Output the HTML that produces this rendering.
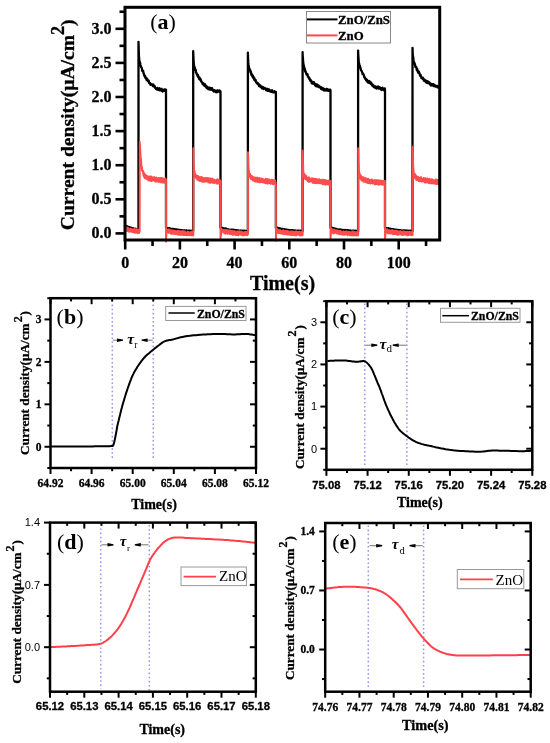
<!DOCTYPE html>
<html><head><meta charset="utf-8"><title>Current density transient response</title>
<style>html,body{margin:0;padding:0;background:#fff;} svg{display:block;filter:blur(0.4px);} text{stroke:#000;stroke-width:0.3px;paint-order:stroke;} text.nostroke{stroke:none;}</style></head>
<body>
<svg width="550" height="743" viewBox="0 0 550 743">
<rect width="550" height="743" fill="#fff"/>
<path d="M125.2,225.7 L125.5,226.0 L125.7,225.8 L126.0,226.3 L126.3,226.1 L126.6,226.4 L126.8,226.7 L127.1,226.5 L127.4,227.0 L127.7,226.8 L127.9,227.2 L128.2,227.3 L128.5,227.2 L128.8,227.0 L129.0,227.6 L129.3,227.6 L129.6,227.4 L129.8,227.3 L130.1,227.7 L130.4,227.9 L130.7,227.6 L130.9,228.3 L131.2,227.8 L131.5,228.3 L131.8,228.4 L132.0,228.5 L132.3,228.5 L132.6,228.2 L132.9,228.7 L133.1,228.5 L133.4,228.5 L133.7,228.7 L134.0,228.7 L134.2,229.0 L134.5,229.1 L134.8,229.0 L135.0,228.8 L135.3,229.0 L135.6,229.1 L135.9,229.0 L136.1,229.1 L136.4,229.3 L136.7,229.0 L137.0,229.1 L137.2,229.4 L137.5,229.2 L137.8,229.3 L138.1,229.1 L138.3,229.2 L138.5,229.5 L138.5,41.8 L138.6,45.8 L138.9,54.8 L139.1,58.1 L139.4,61.5 L139.7,61.6 L139.7,61.7 L139.8,62.1 L140.0,62.3 L140.2,63.8 L140.5,65.0 L140.8,65.9 L141.1,67.0 L141.3,67.0 L141.6,67.5 L141.9,68.8 L142.2,70.8 L142.4,70.1 L142.7,70.9 L143.0,70.7 L143.3,71.7 L143.5,73.3 L143.8,73.3 L144.1,75.3 L144.3,75.0 L144.6,76.2 L144.9,76.9 L145.2,76.0 L145.4,77.9 L145.7,78.2 L146.0,78.4 L146.3,77.8 L146.5,80.0 L146.8,79.4 L147.1,78.9 L147.4,79.4 L147.6,79.6 L147.9,81.2 L148.2,81.2 L148.4,80.5 L148.7,80.7 L149.0,82.8 L149.3,83.1 L149.5,83.3 L149.8,83.6 L150.1,83.1 L150.4,84.1 L150.6,84.9 L150.9,84.2 L151.2,84.5 L151.5,84.3 L151.7,84.2 L152.0,84.7 L152.3,84.6 L152.6,84.6 L152.8,86.1 L153.1,84.4 L153.4,84.6 L153.6,85.0 L153.9,86.1 L154.2,86.3 L154.5,87.2 L154.7,86.2 L155.0,87.8 L155.3,87.8 L155.6,88.2 L155.8,88.1 L156.1,89.0 L156.4,89.4 L156.7,89.3 L156.9,88.9 L157.2,89.7 L157.5,88.0 L157.7,88.6 L158.0,89.7 L158.3,89.4 L158.6,89.5 L158.8,90.1 L159.1,88.6 L159.4,88.3 L159.7,89.6 L159.9,90.4 L160.2,90.4 L160.5,90.0 L160.8,90.2 L161.0,89.0 L161.3,90.5 L161.6,88.9 L161.8,90.0 L162.1,91.0 L162.4,90.3 L162.7,91.6 L162.9,90.7 L163.2,89.8 L163.5,90.0 L163.8,90.8 L164.0,90.5 L164.3,90.8 L164.6,89.3 L164.9,89.4 L165.1,90.6 L165.4,90.9 L165.7,89.8 L166.0,89.6 L166.0,89.9 L166.0,227.4 L166.2,227.5 L166.5,227.6 L166.8,228.0 L167.0,227.9 L167.3,228.1 L167.6,228.4 L167.9,228.4 L168.1,228.3 L168.4,228.4 L168.7,228.2 L169.0,228.1 L169.2,228.5 L169.5,228.2 L169.8,228.3 L170.1,228.3 L170.3,228.8 L170.6,229.0 L170.9,229.0 L171.1,229.1 L171.4,229.1 L171.7,228.9 L172.0,228.8 L172.2,228.9 L172.5,229.2 L172.8,229.1 L173.1,229.0 L173.3,229.6 L173.6,229.2 L173.9,229.1 L174.2,229.2 L174.4,229.3 L174.7,229.5 L175.0,229.8 L175.3,229.4 L175.5,229.8 L175.8,229.5 L176.1,229.4 L176.3,229.8 L176.6,229.9 L176.9,229.5 L177.2,229.7 L177.4,230.1 L177.7,230.2 L178.0,230.2 L178.3,229.7 L178.5,229.8 L178.8,230.3 L179.1,229.9 L179.4,229.8 L179.6,230.1 L179.9,230.3 L180.2,230.2 L180.4,230.5 L180.7,230.6 L181.0,230.0 L181.3,230.3 L181.5,230.4 L181.8,230.1 L182.1,230.5 L182.4,230.2 L182.6,230.3 L182.9,230.7 L183.2,230.7 L183.5,230.7 L183.7,230.8 L184.0,230.5 L184.3,230.8 L184.5,230.7 L184.8,230.9 L185.1,230.4 L185.4,230.8 L185.6,230.8 L185.9,230.7 L186.2,230.5 L186.5,230.8 L186.7,230.5 L187.0,230.8 L187.3,230.8 L187.6,230.8 L187.8,231.2 L188.1,230.9 L188.4,231.1 L188.7,231.3 L188.9,230.7 L189.2,231.2 L189.5,231.0 L189.7,230.8 L190.0,230.9 L190.3,231.1 L190.6,231.0 L190.8,231.0 L191.1,230.8 L191.4,231.3 L191.7,231.0 L191.9,231.3 L192.2,231.2 L192.5,230.9 L192.8,231.1 L193.0,231.1 L193.2,231.0 L193.2,51.1 L193.3,54.7 L193.4,56.3 L193.4,55.9 L193.6,60.9 L193.8,64.0 L194.1,66.0 L194.4,66.8 L194.7,67.3 L194.9,68.0 L195.2,70.2 L195.5,70.2 L195.8,70.0 L196.0,72.4 L196.3,73.1 L196.6,73.1 L196.9,74.5 L197.1,74.7 L197.4,75.7 L197.7,74.7 L198.0,75.0 L198.2,77.2 L198.5,76.5 L198.8,77.1 L199.0,78.8 L199.3,77.4 L199.6,79.4 L199.9,78.2 L200.1,79.8 L200.4,79.9 L200.7,79.2 L201.0,81.4 L201.2,81.1 L201.5,81.3 L201.8,82.1 L202.1,82.7 L202.3,82.8 L202.6,83.8 L202.9,82.9 L203.1,83.5 L203.4,84.7 L203.7,84.3 L204.0,84.0 L204.2,85.5 L204.5,83.8 L204.8,84.5 L205.1,84.4 L205.3,86.5 L205.6,86.5 L205.9,85.6 L206.2,87.1 L206.4,87.7 L206.7,87.3 L207.0,86.5 L207.2,87.0 L207.5,88.6 L207.8,87.1 L208.1,87.9 L208.3,87.8 L208.6,89.2 L208.9,89.4 L209.2,88.6 L209.4,89.5 L209.7,87.6 L210.0,88.3 L210.3,88.0 L210.5,89.6 L210.8,89.7 L211.1,88.1 L211.4,89.1 L211.6,89.4 L211.9,89.0 L212.2,88.3 L212.4,90.2 L212.7,89.6 L213.0,90.4 L213.3,90.9 L213.5,91.0 L213.8,91.5 L214.1,91.0 L214.4,91.1 L214.6,90.2 L214.9,91.3 L215.2,90.9 L215.5,91.7 L215.7,92.1 L216.0,91.6 L216.3,92.2 L216.5,90.7 L216.8,91.1 L217.1,91.9 L217.4,90.3 L217.6,92.1 L217.9,90.6 L218.2,91.5 L218.5,91.4 L218.7,90.7 L219.0,91.4 L219.3,91.1 L219.6,90.5 L219.8,92.0 L220.1,91.0 L220.4,91.3 L220.5,92.0 L220.5,227.7 L220.7,227.9 L220.9,228.0 L221.2,228.1 L221.5,227.7 L221.7,228.1 L222.0,228.3 L222.3,228.4 L222.6,227.9 L222.8,228.0 L223.1,228.2 L223.4,228.5 L223.7,228.6 L223.9,228.6 L224.2,228.6 L224.5,228.9 L224.8,228.7 L225.0,228.9 L225.3,228.5 L225.6,228.5 L225.8,228.9 L226.1,229.2 L226.4,228.7 L226.7,229.2 L226.9,229.2 L227.2,229.5 L227.5,229.3 L227.8,229.3 L228.0,229.3 L228.3,229.6 L228.6,229.4 L228.9,229.8 L229.1,229.7 L229.4,229.8 L229.7,229.7 L230.0,230.0 L230.2,230.0 L230.5,229.9 L230.8,229.9 L231.0,229.7 L231.3,229.8 L231.6,229.7 L231.9,229.8 L232.1,229.8 L232.4,229.7 L232.7,230.1 L233.0,230.2 L233.2,229.7 L233.5,230.4 L233.8,230.0 L234.1,230.1 L234.3,230.5 L234.6,230.0 L234.9,230.0 L235.1,230.2 L235.4,230.2 L235.7,230.1 L236.0,230.6 L236.2,230.4 L236.5,230.4 L236.8,230.2 L237.1,230.3 L237.3,230.3 L237.6,230.5 L237.9,230.3 L238.2,230.4 L238.4,230.5 L238.7,230.8 L239.0,231.0 L239.2,230.9 L239.5,230.8 L239.8,231.0 L240.1,230.5 L240.3,230.7 L240.6,230.7 L240.9,230.7 L241.2,230.7 L241.4,230.8 L241.7,231.2 L242.0,230.6 L242.3,230.7 L242.5,230.9 L242.8,230.9 L243.1,230.8 L243.4,231.2 L243.6,230.8 L243.9,231.1 L244.2,231.3 L244.4,231.1 L244.7,230.8 L245.0,231.2 L245.3,230.9 L245.5,230.7 L245.8,231.1 L246.1,231.1 L246.4,231.1 L246.6,231.0 L246.9,230.9 L247.2,231.0 L247.5,231.0 L247.7,231.4 L247.9,231.4 L247.9,52.6 L248.0,56.3 L248.0,57.6 L248.0,57.5 L248.3,62.4 L248.5,64.4 L248.8,66.1 L249.1,68.1 L249.4,68.5 L249.6,69.4 L249.9,70.1 L250.2,70.0 L250.5,72.3 L250.7,71.4 L251.0,72.2 L251.3,74.9 L251.6,74.7 L251.8,74.0 L252.1,75.6 L252.4,76.3 L252.7,76.9 L252.9,75.6 L253.2,77.6 L253.5,78.3 L253.7,77.9 L254.0,77.5 L254.3,79.8 L254.6,78.7 L254.8,79.9 L255.1,79.8 L255.4,81.1 L255.7,80.0 L255.9,81.2 L256.2,82.5 L256.5,82.8 L256.8,82.2 L257.0,83.0 L257.3,83.7 L257.6,83.7 L257.8,84.1 L258.1,83.3 L258.4,83.9 L258.7,84.0 L258.9,86.0 L259.2,84.6 L259.5,85.4 L259.8,85.3 L260.0,86.6 L260.3,86.7 L260.6,85.6 L260.9,86.6 L261.1,87.2 L261.4,87.2 L261.7,88.2 L261.9,88.3 L262.2,86.9 L262.5,88.3 L262.8,87.0 L263.0,88.7 L263.3,88.3 L263.6,89.1 L263.9,88.9 L264.1,87.7 L264.4,88.0 L264.7,88.3 L265.0,88.2 L265.2,88.1 L265.5,89.0 L265.8,88.7 L266.1,90.2 L266.3,88.8 L266.6,88.9 L266.9,89.2 L267.1,90.2 L267.4,90.8 L267.7,89.0 L268.0,90.9 L268.2,90.5 L268.5,90.7 L268.8,89.8 L269.1,89.4 L269.3,91.0 L269.6,90.2 L269.9,90.5 L270.2,91.0 L270.4,91.6 L270.7,91.7 L271.0,91.7 L271.2,90.3 L271.5,91.8 L271.8,90.3 L272.1,90.1 L272.3,91.4 L272.6,92.0 L272.9,91.9 L273.2,91.7 L273.4,92.4 L273.7,92.2 L274.0,92.3 L274.3,91.8 L274.5,91.2 L274.8,92.1 L275.1,92.1 L275.4,91.7 L275.6,91.9 L275.9,91.9 L275.9,227.9 L275.9,227.8 L276.2,227.4 L276.4,228.0 L276.7,227.8 L277.0,227.8 L277.3,227.7 L277.5,228.3 L277.8,228.3 L278.1,228.4 L278.4,228.3 L278.6,228.4 L278.9,228.1 L279.2,228.2 L279.5,228.3 L279.7,228.9 L280.0,229.0 L280.3,228.6 L280.5,228.5 L280.8,228.9 L281.1,228.8 L281.4,229.3 L281.6,229.1 L281.9,228.8 L282.2,228.9 L282.5,228.9 L282.7,228.9 L283.0,229.4 L283.3,229.6 L283.6,229.6 L283.8,229.4 L284.1,229.3 L284.4,229.2 L284.7,229.4 L284.9,229.5 L285.2,229.4 L285.5,229.7 L285.7,229.7 L286.0,230.1 L286.3,229.6 L286.6,230.0 L286.8,229.6 L287.1,229.8 L287.4,230.1 L287.7,230.2 L287.9,230.2 L288.2,229.9 L288.5,229.9 L288.8,230.4 L289.0,230.4 L289.3,230.1 L289.6,230.1 L289.8,230.3 L290.1,230.4 L290.4,230.2 L290.7,230.6 L290.9,230.5 L291.2,230.4 L291.5,230.1 L291.8,230.3 L292.0,230.2 L292.3,230.5 L292.6,230.7 L292.9,230.7 L293.1,230.2 L293.4,230.4 L293.7,230.7 L293.9,230.9 L294.2,230.6 L294.5,230.5 L294.8,230.7 L295.0,230.9 L295.3,230.6 L295.6,230.4 L295.9,230.9 L296.1,231.1 L296.4,230.9 L296.7,230.9 L297.0,230.7 L297.2,231.0 L297.5,230.6 L297.8,230.7 L298.1,230.9 L298.3,231.1 L298.6,230.6 L298.9,231.1 L299.1,230.7 L299.4,231.1 L299.7,231.2 L300.0,230.8 L300.2,231.1 L300.5,230.7 L300.8,231.0 L301.1,231.3 L301.3,231.2 L301.6,231.1 L301.9,231.0 L302.2,230.8 L302.4,231.3 L302.6,231.2 L302.6,52.1 L302.7,56.5 L302.7,56.5 L302.7,55.7 L303.0,59.7 L303.2,62.5 L303.5,64.7 L303.8,65.5 L304.1,66.8 L304.3,69.2 L304.6,68.3 L304.9,69.4 L305.2,71.6 L305.4,70.8 L305.7,72.0 L306.0,72.7 L306.3,73.7 L306.5,74.6 L306.8,74.6 L307.1,74.9 L307.4,74.1 L307.6,74.7 L307.9,76.9 L308.2,77.1 L308.4,76.6 L308.7,77.1 L309.0,78.4 L309.3,78.8 L309.5,79.4 L309.8,78.6 L310.1,80.6 L310.4,80.6 L310.6,79.8 L310.9,81.3 L311.2,80.7 L311.5,81.2 L311.7,83.1 L312.0,83.4 L312.3,83.6 L312.5,83.3 L312.8,82.3 L313.1,82.1 L313.4,83.4 L313.6,83.6 L313.9,82.2 L314.2,84.0 L314.5,83.3 L314.7,84.5 L315.0,84.9 L315.3,85.7 L315.6,84.4 L315.8,84.8 L316.1,84.2 L316.4,86.3 L316.6,86.0 L316.9,85.6 L317.2,84.7 L317.5,86.1 L317.7,86.5 L318.0,86.3 L318.3,86.3 L318.6,85.5 L318.8,87.2 L319.1,86.2 L319.4,86.2 L319.7,86.4 L319.9,86.9 L320.2,87.7 L320.5,87.9 L320.8,87.1 L321.0,88.8 L321.3,88.7 L321.6,87.7 L321.8,89.0 L322.1,89.6 L322.4,88.7 L322.7,89.3 L322.9,88.1 L323.2,88.4 L323.5,88.4 L323.8,90.1 L324.0,90.5 L324.3,89.7 L324.6,89.3 L324.9,89.9 L325.1,90.5 L325.4,90.1 L325.7,89.5 L325.9,89.3 L326.2,89.0 L326.5,89.4 L326.8,90.5 L327.0,88.9 L327.3,89.6 L327.6,90.2 L327.9,89.5 L328.1,90.8 L328.4,90.8 L328.7,90.9 L329.0,89.6 L329.2,90.3 L329.5,90.9 L329.8,90.9 L330.1,89.6 L330.3,90.8 L330.5,90.1 L330.5,227.5 L330.6,227.3 L330.9,228.0 L331.1,227.8 L331.4,227.7 L331.7,227.7 L332.0,227.7 L332.2,228.4 L332.5,228.3 L332.8,228.5 L333.1,228.5 L333.3,228.1 L333.6,228.4 L333.9,228.2 L334.2,228.7 L334.4,228.4 L334.7,228.7 L335.0,228.9 L335.2,228.6 L335.5,228.6 L335.8,229.2 L336.1,228.9 L336.3,229.0 L336.6,229.3 L336.9,229.2 L337.2,229.4 L337.4,229.4 L337.7,229.5 L338.0,229.3 L338.3,229.3 L338.5,229.6 L338.8,229.8 L339.1,229.6 L339.4,229.4 L339.6,229.8 L339.9,229.8 L340.2,229.9 L340.4,229.5 L340.7,229.7 L341.0,230.1 L341.3,230.1 L341.5,229.9 L341.8,229.9 L342.1,229.9 L342.4,230.3 L342.6,230.2 L342.9,229.9 L343.2,230.1 L343.5,230.3 L343.7,230.3 L344.0,229.9 L344.3,230.3 L344.5,230.2 L344.8,230.4 L345.1,230.3 L345.4,230.1 L345.6,230.0 L345.9,230.5 L346.2,230.6 L346.5,230.3 L346.7,230.7 L347.0,230.8 L347.3,230.2 L347.6,230.6 L347.8,230.3 L348.1,230.6 L348.4,230.3 L348.6,230.6 L348.9,230.9 L349.2,231.0 L349.5,230.6 L349.7,230.6 L350.0,230.4 L350.3,231.0 L350.6,230.7 L350.8,230.9 L351.1,230.8 L351.4,231.1 L351.7,231.0 L351.9,230.8 L352.2,230.6 L352.5,231.1 L352.8,230.9 L353.0,230.7 L353.3,230.6 L353.6,231.1 L353.8,231.2 L354.1,230.7 L354.4,230.7 L354.7,231.0 L354.9,231.3 L355.2,230.7 L355.5,231.1 L355.8,230.8 L356.0,231.0 L356.3,230.9 L356.6,231.3 L356.9,230.9 L357.1,231.3 L357.4,231.2 L357.7,230.9 L357.9,230.9 L358.1,231.4 L358.1,50.6 L358.2,54.1 L358.2,54.7 L358.2,53.4 L358.5,58.0 L358.8,62.6 L359.0,63.2 L359.3,64.1 L359.6,66.7 L359.9,65.9 L360.1,67.2 L360.4,68.1 L360.7,68.7 L361.0,70.1 L361.2,70.5 L361.5,70.8 L361.8,71.2 L362.1,72.2 L362.3,72.8 L362.6,74.2 L362.9,73.4 L363.1,74.1 L363.4,74.1 L363.7,74.6 L364.0,75.8 L364.2,77.0 L364.5,76.8 L364.8,78.1 L365.1,77.8 L365.3,79.0 L365.6,78.7 L365.9,78.9 L366.2,80.4 L366.4,79.5 L366.7,79.6 L367.0,79.9 L367.2,80.8 L367.5,82.1 L367.8,81.5 L368.1,82.1 L368.3,82.7 L368.6,81.2 L368.9,81.0 L369.2,81.7 L369.4,81.6 L369.7,83.0 L370.0,82.6 L370.3,81.8 L370.5,82.1 L370.8,84.0 L371.1,82.8 L371.3,82.7 L371.6,84.4 L371.9,83.9 L372.2,85.6 L372.4,84.3 L372.7,86.1 L373.0,85.2 L373.3,86.1 L373.5,85.3 L373.8,87.0 L374.1,87.0 L374.4,86.6 L374.6,87.2 L374.9,87.6 L375.2,87.8 L375.5,86.3 L375.7,87.0 L376.0,86.7 L376.3,88.4 L376.5,88.5 L376.8,87.5 L377.1,87.3 L377.4,87.8 L377.6,86.6 L377.9,87.3 L378.2,86.7 L378.5,88.5 L378.7,86.7 L379.0,87.6 L379.3,88.3 L379.6,87.5 L379.8,87.3 L380.1,88.3 L380.4,88.9 L380.6,88.2 L380.9,89.0 L381.2,89.7 L381.5,90.0 L381.7,88.2 L382.0,89.4 L382.3,88.6 L382.6,87.8 L382.8,88.6 L383.1,89.3 L383.4,90.0 L383.7,90.0 L383.9,89.8 L384.2,88.9 L384.5,89.3 L384.8,88.4 L385.0,90.1 L385.0,227.8 L385.0,227.5 L385.3,228.0 L385.6,228.1 L385.8,227.9 L386.1,228.2 L386.4,228.1 L386.7,228.3 L386.9,228.1 L387.2,228.1 L387.5,228.5 L387.8,228.3 L388.0,228.4 L388.3,228.7 L388.6,228.2 L388.9,228.8 L389.1,228.9 L389.4,229.0 L389.7,228.7 L389.9,228.6 L390.2,228.7 L390.5,229.0 L390.8,229.2 L391.0,229.4 L391.3,229.0 L391.6,229.1 L391.9,229.3 L392.1,229.2 L392.4,229.3 L392.7,229.1 L393.0,229.2 L393.2,229.6 L393.5,229.2 L393.8,229.8 L394.1,229.6 L394.3,229.7 L394.6,229.8 L394.9,230.0 L395.1,229.6 L395.4,230.1 L395.7,229.8 L396.0,229.6 L396.2,230.1 L396.5,230.1 L396.8,229.9 L397.1,230.0 L397.3,229.9 L397.6,229.9 L397.9,230.3 L398.2,230.3 L398.4,230.3 L398.7,230.5 L399.0,230.0 L399.2,230.1 L399.5,230.1 L399.8,230.6 L400.1,230.1 L400.3,230.2 L400.6,230.4 L400.9,230.2 L401.2,230.5 L401.4,230.6 L401.7,230.8 L402.0,230.7 L402.3,230.8 L402.5,230.7 L402.8,230.4 L403.1,230.5 L403.3,230.4 L403.6,230.5 L403.9,230.8 L404.2,230.6 L404.4,230.7 L404.7,230.5 L405.0,230.7 L405.3,230.9 L405.5,230.7 L405.8,230.5 L406.1,231.0 L406.4,230.6 L406.6,231.2 L406.9,231.0 L407.2,231.1 L407.5,230.7 L407.7,230.6 L408.0,230.8 L408.3,231.1 L408.5,230.7 L408.8,231.1 L409.1,231.2 L409.4,230.7 L409.6,230.9 L409.9,230.9 L410.2,230.9 L410.5,230.7 L410.7,231.1 L411.0,230.9 L411.3,231.0 L411.6,230.9 L411.8,231.2 L412.1,231.0 L412.4,231.1 L412.5,231.3 L412.5,47.8 L412.6,49.8 L412.6,51.5 L412.6,51.7 L412.9,56.1 L413.2,57.0 L413.5,60.0 L413.7,61.8 L414.0,63.1 L414.3,62.6 L414.6,63.5 L414.8,64.2 L415.1,64.8 L415.4,67.0 L415.7,66.6 L415.9,66.7 L416.2,67.3 L416.5,67.7 L416.8,70.1 L417.0,68.8 L417.3,69.2 L417.6,71.4 L417.8,71.6 L418.1,72.3 L418.4,72.8 L418.7,71.4 L418.9,71.9 L419.2,72.4 L419.5,73.3 L419.8,74.5 L420.0,75.4 L420.3,75.9 L420.6,74.9 L420.9,76.4 L421.1,76.6 L421.4,77.9 L421.7,77.8 L421.9,78.2 L422.2,77.7 L422.5,78.8 L422.8,77.7 L423.0,79.0 L423.3,78.5 L423.6,79.2 L423.9,80.7 L424.1,80.1 L424.4,79.6 L424.7,80.8 L425.0,80.2 L425.2,80.8 L425.5,81.7 L425.8,82.2 L426.0,80.7 L426.3,82.2 L426.6,82.7 L426.9,82.3 L427.1,81.2 L427.4,83.0 L427.7,82.1 L428.0,82.3 L428.2,81.7 L428.5,83.2 L428.8,82.7 L429.1,82.2 L429.3,83.7 L429.6,82.5 L429.9,84.2 L430.2,84.6 L430.4,83.8 L430.7,85.2 L431.0,84.2 L431.2,85.5 L431.5,84.0 L431.8,84.3 L432.1,84.2 L432.3,85.2 L432.6,85.1 L432.9,85.2 L433.2,84.2 L433.4,86.0 L433.7,84.3 L434.0,86.0 L434.3,86.1 L434.5,84.9 L434.8,86.0 L435.1,86.5 L435.3,85.6 L435.6,86.5 L435.9,86.4 L436.2,85.9 L436.4,86.0 L436.7,86.2 L437.0,86.9 L437.3,87.3 L437.5,85.9 L437.8,86.3 L438.1,86.2 L438.4,87.5 L438.6,86.9 L438.9,86.5" fill="none" stroke="#000" stroke-width="2.3" stroke-linejoin="round"/>
<path d="M125.2,230.2 L125.3,228.8 L125.4,227.2 L125.6,229.8 L125.7,230.1 L125.8,229.7 L125.9,228.1 L126.1,227.6 L126.2,230.4 L126.3,230.5 L126.4,230.1 L126.6,229.9 L126.7,229.1 L126.8,230.6 L126.9,230.0 L127.0,230.6 L127.2,227.4 L127.3,228.5 L127.4,231.1 L127.5,227.6 L127.7,231.1 L127.8,230.0 L127.9,227.6 L128.0,228.4 L128.2,228.7 L128.3,230.0 L128.4,231.0 L128.5,229.2 L128.6,231.4 L128.8,231.0 L128.9,230.3 L129.0,231.8 L129.1,230.3 L129.3,228.8 L129.4,229.2 L129.5,230.0 L129.6,229.5 L129.8,230.2 L129.9,231.6 L130.0,229.7 L130.1,230.6 L130.2,229.2 L130.4,228.6 L130.5,230.5 L130.6,230.0 L130.7,229.3 L130.9,230.6 L131.0,231.5 L131.1,229.5 L131.2,228.8 L131.4,229.3 L131.5,229.6 L131.6,229.0 L131.7,229.8 L131.8,229.9 L132.0,230.7 L132.1,231.3 L132.2,230.1 L132.3,232.3 L132.5,231.0 L132.6,229.5 L132.7,229.8 L132.8,230.2 L133.0,231.7 L133.1,231.0 L133.2,230.9 L133.3,230.3 L133.4,231.2 L133.6,230.1 L133.7,229.1 L133.8,232.1 L133.9,230.2 L134.1,229.7 L134.2,231.4 L134.3,231.0 L134.4,229.0 L134.6,232.8 L134.7,230.8 L134.8,232.4 L134.9,229.8 L135.0,229.2 L135.2,230.9 L135.3,232.7 L135.4,230.7 L135.5,230.9 L135.7,230.2 L135.8,231.0 L135.9,230.5 L136.0,229.8 L136.2,231.0 L136.3,231.5 L136.4,229.3 L136.5,232.4 L136.6,230.4 L136.8,231.6 L136.9,230.1 L137.0,232.8 L137.1,229.3 L137.3,231.8 L137.4,233.1 L137.5,232.2 L137.6,231.7 L137.8,233.3 L137.9,231.6 L138.0,231.6 L138.1,230.5 L138.2,231.9 L138.4,232.3 L138.5,232.5 L138.5,230.4 L138.5,229.6 L138.6,231.3 L138.7,232.5 L138.9,230.2 L139.0,231.8 L139.1,232.6 L139.2,232.9 L139.4,230.3 L139.5,230.2 L139.6,230.9 L139.7,231.6 L139.7,231.2 L139.8,143.3 L139.8,141.9 L140.0,147.1 L140.1,148.0 L140.2,149.2 L140.3,151.2 L140.5,154.5 L140.6,157.0 L140.7,157.3 L140.8,160.7 L141.0,158.7 L141.1,162.2 L141.2,161.0 L141.3,164.8 L141.4,165.2 L141.6,166.7 L141.7,166.8 L141.8,168.7 L141.9,170.2 L142.1,167.6 L142.2,170.3 L142.3,171.0 L142.4,171.3 L142.6,171.0 L142.7,171.7 L142.8,171.2 L142.9,171.5 L143.0,173.2 L143.2,171.0 L143.3,171.6 L143.4,175.7 L143.5,172.4 L143.7,172.3 L143.8,173.1 L143.9,176.3 L144.0,173.4 L144.2,174.5 L144.3,177.5 L144.4,177.7 L144.5,173.6 L144.6,175.1 L144.8,177.1 L144.9,178.0 L145.0,177.9 L145.1,177.6 L145.3,175.2 L145.4,177.3 L145.5,178.3 L145.6,175.0 L145.8,175.6 L145.9,178.6 L146.0,175.3 L146.1,176.7 L146.2,176.0 L146.4,176.6 L146.5,175.6 L146.6,176.1 L146.7,176.0 L146.9,179.0 L147.0,176.8 L147.1,177.6 L147.2,176.6 L147.4,178.1 L147.5,176.1 L147.6,177.7 L147.7,179.0 L147.8,179.2 L148.0,179.7 L148.1,178.1 L148.2,180.2 L148.3,178.3 L148.5,179.8 L148.6,178.3 L148.7,178.3 L148.8,178.1 L149.0,176.6 L149.1,180.6 L149.2,176.8 L149.3,178.6 L149.4,178.2 L149.6,177.7 L149.7,176.9 L149.8,179.1 L149.9,178.9 L150.1,176.4 L150.2,180.6 L150.3,178.0 L150.4,178.0 L150.6,180.9 L150.7,178.2 L150.8,177.9 L150.9,176.7 L151.0,179.5 L151.2,176.5 L151.3,178.8 L151.4,178.9 L151.5,177.0 L151.7,181.0 L151.8,177.9 L151.9,178.3 L152.0,179.7 L152.2,177.3 L152.3,179.6 L152.4,179.1 L152.5,178.9 L152.6,177.8 L152.8,180.4 L152.9,179.4 L153.0,179.4 L153.1,178.8 L153.3,177.6 L153.4,180.1 L153.5,177.6 L153.6,179.6 L153.8,179.2 L153.9,180.3 L154.0,179.2 L154.1,177.0 L154.2,178.5 L154.4,177.9 L154.5,180.1 L154.6,180.1 L154.7,180.2 L154.9,178.9 L155.0,178.7 L155.1,178.0 L155.2,181.5 L155.4,178.4 L155.5,177.6 L155.6,179.2 L155.7,181.5 L155.8,180.4 L156.0,181.8 L156.1,180.9 L156.2,177.6 L156.3,179.0 L156.5,178.8 L156.6,178.2 L156.7,177.7 L156.8,179.1 L157.0,179.1 L157.1,179.0 L157.2,178.7 L157.3,179.2 L157.4,178.8 L157.6,181.0 L157.7,178.9 L157.8,179.9 L157.9,178.5 L158.1,181.6 L158.2,181.2 L158.3,181.9 L158.4,178.5 L158.6,177.9 L158.7,179.1 L158.8,180.5 L158.9,178.4 L159.0,178.5 L159.2,179.6 L159.3,181.0 L159.4,180.8 L159.5,180.3 L159.7,180.8 L159.8,180.3 L159.9,179.3 L160.0,178.0 L160.2,182.1 L160.3,179.7 L160.4,182.2 L160.5,181.8 L160.6,178.6 L160.8,179.7 L160.9,178.2 L161.0,180.4 L161.1,182.4 L161.3,180.7 L161.4,179.7 L161.5,178.2 L161.6,178.0 L161.8,180.3 L161.9,180.6 L162.0,182.1 L162.1,179.6 L162.2,181.6 L162.4,181.9 L162.5,182.6 L162.6,182.6 L162.7,179.5 L162.9,182.1 L163.0,178.2 L163.1,182.3 L163.2,178.7 L163.4,182.1 L163.5,182.7 L163.6,179.4 L163.7,181.7 L163.8,179.4 L164.0,181.9 L164.1,182.6 L164.2,179.3 L164.3,179.6 L164.5,178.9 L164.6,179.5 L164.7,182.5 L164.8,180.0 L165.0,179.6 L165.1,180.8 L165.2,178.6 L165.3,181.8 L165.4,178.5 L165.6,179.7 L165.7,183.0 L165.8,183.0 L165.9,180.0 L166.0,179.3 L166.0,241.8 L166.1,240.1 L166.2,236.7 L166.3,237.3 L166.4,232.8 L166.6,232.7 L166.7,232.7 L166.8,231.3 L166.9,230.5 L167.0,231.1 L167.2,230.2 L167.3,232.4 L167.4,229.7 L167.5,231.5 L167.7,230.4 L167.8,230.5 L167.9,231.4 L168.0,231.6 L168.2,230.0 L168.3,229.4 L168.4,230.0 L168.5,231.0 L168.6,232.1 L168.8,233.1 L168.9,229.4 L169.0,230.5 L169.1,230.0 L169.3,232.1 L169.4,231.0 L169.5,229.5 L169.6,230.1 L169.8,231.1 L169.9,232.3 L170.0,231.9 L170.1,230.0 L170.2,232.1 L170.4,230.9 L170.5,231.3 L170.6,230.1 L170.7,230.5 L170.9,232.6 L171.0,233.8 L171.1,232.8 L171.2,232.1 L171.4,231.5 L171.5,230.6 L171.6,230.3 L171.7,233.8 L171.8,230.6 L172.0,230.7 L172.1,230.5 L172.2,231.7 L172.3,233.0 L172.5,230.6 L172.6,230.8 L172.7,231.3 L172.8,230.4 L173.0,232.8 L173.1,233.9 L173.2,232.0 L173.3,231.0 L173.4,233.4 L173.6,231.2 L173.7,230.5 L173.8,233.4 L173.9,231.9 L174.1,231.6 L174.2,232.5 L174.3,233.5 L174.4,233.4 L174.6,231.4 L174.7,231.2 L174.8,232.6 L174.9,234.1 L175.0,231.2 L175.2,231.4 L175.3,233.6 L175.4,232.2 L175.5,230.9 L175.7,231.0 L175.8,232.5 L175.9,232.7 L176.0,232.2 L176.2,233.9 L176.3,233.9 L176.4,233.9 L176.5,231.8 L176.6,233.2 L176.8,232.4 L176.9,233.1 L177.0,232.6 L177.1,234.1 L177.3,234.6 L177.4,230.7 L177.5,233.3 L177.6,234.4 L177.8,232.2 L177.9,231.6 L178.0,234.2 L178.1,232.4 L178.2,233.5 L178.4,232.8 L178.5,234.8 L178.6,234.8 L178.7,230.9 L178.9,231.4 L179.0,233.0 L179.1,232.6 L179.2,233.9 L179.4,231.8 L179.5,233.3 L179.6,231.1 L179.7,231.9 L179.8,231.7 L180.0,231.1 L180.1,234.0 L180.2,234.9 L180.3,234.2 L180.5,234.3 L180.6,234.7 L180.7,234.9 L180.8,232.8 L181.0,231.6 L181.1,233.3 L181.2,231.3 L181.3,231.4 L181.4,234.9 L181.6,232.7 L181.7,233.6 L181.8,234.7 L181.9,231.3 L182.1,234.2 L182.2,232.9 L182.3,232.6 L182.4,231.3 L182.6,232.5 L182.7,233.6 L182.8,233.4 L182.9,234.6 L183.0,231.3 L183.2,231.2 L183.3,234.4 L183.4,235.1 L183.5,234.3 L183.7,233.9 L183.8,231.6 L183.9,231.6 L184.0,231.9 L184.2,235.1 L184.3,232.1 L184.4,232.5 L184.5,232.7 L184.6,231.3 L184.8,235.1 L184.9,234.8 L185.0,232.3 L185.1,231.6 L185.3,232.6 L185.4,234.2 L185.5,233.0 L185.6,232.3 L185.8,235.0 L185.9,234.1 L186.0,234.4 L186.1,234.9 L186.2,233.5 L186.4,234.8 L186.5,234.5 L186.6,234.9 L186.7,232.7 L186.9,235.4 L187.0,232.6 L187.1,234.7 L187.2,235.4 L187.4,231.7 L187.5,234.6 L187.6,231.7 L187.7,232.0 L187.8,231.9 L188.0,235.0 L188.1,233.7 L188.2,235.1 L188.3,231.7 L188.5,232.1 L188.6,233.0 L188.7,233.7 L188.8,234.2 L189.0,232.2 L189.1,233.6 L189.2,233.0 L189.3,235.0 L189.4,234.7 L189.6,235.4 L189.7,232.7 L189.8,233.3 L189.9,235.0 L190.1,232.1 L190.2,234.5 L190.3,233.9 L190.4,235.0 L190.6,234.5 L190.7,232.2 L190.8,234.3 L190.9,235.0 L191.0,233.6 L191.2,234.3 L191.3,232.0 L191.4,235.2 L191.5,231.7 L191.7,235.4 L191.8,232.0 L191.9,232.9 L192.0,234.8 L192.2,233.7 L192.3,234.5 L192.4,234.6 L192.5,234.9 L192.6,234.2 L192.8,231.6 L192.9,231.6 L193.0,231.9 L193.1,235.3 L193.2,234.5 L193.2,232.0 L193.3,235.5 L193.4,232.7 L193.4,149.8 L193.4,148.2 L193.5,158.5 L193.6,159.2 L193.8,164.7 L193.9,168.1 L194.0,170.7 L194.1,168.4 L194.2,170.9 L194.4,173.4 L194.5,173.0 L194.6,171.4 L194.7,175.1 L194.9,173.8 L195.0,176.2 L195.1,176.3 L195.2,173.8 L195.4,174.3 L195.5,176.9 L195.6,177.6 L195.7,177.8 L195.8,175.5 L196.0,176.2 L196.1,177.4 L196.2,177.8 L196.3,176.0 L196.5,175.7 L196.6,175.4 L196.7,176.5 L196.8,178.4 L197.0,179.1 L197.1,176.1 L197.2,177.7 L197.3,176.4 L197.4,179.5 L197.6,176.1 L197.7,178.4 L197.8,176.1 L197.9,176.1 L198.1,177.9 L198.2,180.2 L198.3,176.1 L198.4,178.2 L198.6,176.4 L198.7,179.3 L198.8,179.7 L198.9,176.8 L199.0,179.0 L199.2,180.0 L199.3,179.1 L199.4,178.1 L199.5,180.9 L199.7,178.5 L199.8,178.9 L199.9,178.6 L200.0,180.5 L200.2,177.8 L200.3,177.4 L200.4,177.2 L200.5,179.7 L200.6,178.0 L200.8,179.5 L200.9,177.8 L201.0,181.1 L201.1,177.3 L201.3,177.0 L201.4,179.2 L201.5,179.1 L201.6,179.1 L201.8,179.1 L201.9,181.5 L202.0,177.1 L202.1,180.6 L202.2,180.8 L202.4,181.2 L202.5,180.6 L202.6,178.0 L202.7,181.6 L202.9,181.3 L203.0,178.6 L203.1,180.9 L203.2,181.8 L203.4,179.1 L203.5,179.2 L203.6,179.5 L203.7,178.7 L203.8,181.5 L204.0,178.0 L204.1,178.7 L204.2,181.8 L204.3,181.5 L204.5,179.8 L204.6,179.8 L204.7,180.8 L204.8,181.6 L205.0,180.3 L205.1,181.5 L205.2,179.5 L205.3,178.2 L205.4,181.6 L205.6,179.6 L205.7,178.8 L205.8,181.5 L205.9,178.5 L206.1,178.0 L206.2,180.6 L206.3,180.4 L206.4,178.5 L206.6,180.0 L206.7,180.6 L206.8,178.1 L206.9,178.9 L207.0,180.9 L207.2,181.4 L207.3,181.0 L207.4,180.5 L207.5,178.0 L207.7,178.8 L207.8,178.3 L207.9,178.8 L208.0,178.7 L208.2,182.4 L208.3,180.2 L208.4,178.2 L208.5,178.3 L208.6,181.5 L208.8,180.8 L208.9,179.8 L209.0,181.1 L209.1,180.3 L209.3,182.5 L209.4,180.8 L209.5,180.5 L209.6,182.7 L209.8,182.2 L209.9,178.4 L210.0,179.3 L210.1,178.5 L210.2,180.0 L210.4,179.2 L210.5,178.8 L210.6,178.9 L210.7,182.8 L210.9,180.0 L211.0,181.8 L211.1,179.9 L211.2,181.8 L211.4,180.5 L211.5,178.8 L211.6,180.2 L211.7,181.9 L211.8,180.7 L212.0,181.1 L212.1,178.7 L212.2,181.8 L212.3,181.8 L212.5,180.2 L212.6,182.7 L212.7,180.5 L212.8,178.8 L213.0,180.9 L213.1,182.0 L213.2,181.1 L213.3,180.8 L213.4,182.6 L213.6,182.8 L213.7,182.7 L213.8,182.0 L213.9,181.5 L214.1,182.1 L214.2,182.3 L214.3,183.0 L214.4,180.9 L214.6,179.6 L214.7,180.6 L214.8,180.8 L214.9,180.5 L215.0,182.6 L215.2,180.2 L215.3,181.4 L215.4,181.0 L215.5,180.7 L215.7,181.4 L215.8,182.2 L215.9,182.5 L216.0,182.6 L216.2,181.3 L216.3,181.9 L216.4,181.0 L216.5,183.6 L216.6,182.1 L216.8,179.7 L216.9,182.6 L217.0,181.2 L217.1,181.5 L217.3,182.5 L217.4,179.2 L217.5,182.5 L217.6,180.3 L217.8,183.1 L217.9,183.6 L218.0,179.8 L218.1,181.9 L218.2,183.6 L218.4,182.1 L218.5,181.9 L218.6,180.6 L218.7,183.5 L218.9,183.0 L219.0,179.6 L219.1,180.6 L219.2,183.3 L219.4,182.5 L219.5,182.4 L219.6,181.0 L219.7,181.2 L219.8,180.2 L220.0,180.3 L220.1,181.7 L220.2,180.7 L220.3,180.7 L220.5,180.7 L220.5,182.0 L220.5,238.9 L220.6,238.3 L220.7,235.8 L220.8,237.3 L221.0,232.6 L221.1,234.5 L221.2,229.7 L221.3,230.4 L221.4,230.8 L221.6,229.0 L221.7,230.6 L221.8,231.3 L221.9,229.8 L222.1,229.5 L222.2,230.6 L222.3,231.5 L222.4,231.3 L222.6,231.3 L222.7,230.2 L222.8,232.0 L222.9,231.7 L223.0,231.0 L223.2,231.7 L223.3,232.0 L223.4,230.2 L223.5,229.9 L223.7,231.4 L223.8,231.6 L223.9,232.7 L224.0,232.3 L224.2,233.0 L224.3,231.2 L224.4,231.2 L224.5,233.3 L224.6,229.9 L224.8,232.4 L224.9,230.3 L225.0,230.3 L225.1,229.8 L225.3,232.9 L225.4,232.1 L225.5,230.1 L225.6,233.8 L225.8,233.7 L225.9,231.6 L226.0,231.9 L226.1,230.2 L226.2,230.8 L226.4,231.8 L226.5,229.9 L226.6,231.9 L226.7,231.9 L226.9,231.3 L227.0,232.5 L227.1,232.7 L227.2,231.7 L227.4,232.7 L227.5,230.3 L227.6,231.4 L227.7,232.1 L227.8,233.8 L228.0,232.7 L228.1,232.6 L228.2,232.0 L228.3,232.0 L228.5,230.7 L228.6,230.4 L228.7,232.4 L228.8,232.6 L229.0,231.9 L229.1,230.4 L229.2,233.0 L229.3,232.3 L229.4,231.1 L229.6,233.8 L229.7,233.2 L229.8,230.5 L229.9,231.2 L230.1,232.5 L230.2,234.1 L230.3,230.9 L230.4,231.8 L230.6,231.3 L230.7,230.6 L230.8,231.0 L230.9,233.0 L231.0,234.0 L231.2,233.5 L231.3,232.6 L231.4,232.7 L231.5,234.0 L231.7,234.0 L231.8,232.2 L231.9,232.3 L232.0,233.4 L232.2,230.7 L232.3,232.2 L232.4,234.7 L232.5,233.2 L232.6,231.6 L232.8,233.6 L232.9,232.1 L233.0,234.9 L233.1,233.7 L233.3,231.5 L233.4,232.5 L233.5,232.2 L233.6,234.2 L233.8,232.9 L233.9,232.7 L234.0,233.9 L234.1,232.4 L234.2,232.8 L234.4,231.0 L234.5,232.7 L234.6,233.4 L234.7,234.6 L234.9,234.4 L235.0,232.0 L235.1,234.7 L235.2,234.7 L235.4,234.4 L235.5,233.0 L235.6,231.8 L235.7,232.6 L235.8,231.9 L236.0,234.9 L236.1,235.1 L236.2,232.0 L236.3,233.9 L236.5,232.3 L236.6,233.8 L236.7,234.5 L236.8,234.1 L237.0,234.8 L237.1,231.5 L237.2,232.9 L237.3,233.8 L237.4,233.4 L237.6,233.7 L237.7,235.1 L237.8,231.6 L237.9,232.9 L238.1,231.4 L238.2,233.5 L238.3,232.8 L238.4,234.3 L238.6,235.2 L238.7,231.5 L238.8,231.9 L238.9,234.1 L239.0,231.7 L239.2,232.0 L239.3,234.1 L239.4,232.9 L239.5,231.5 L239.7,233.4 L239.8,231.5 L239.9,234.4 L240.0,233.8 L240.2,232.5 L240.3,234.5 L240.4,234.2 L240.5,231.9 L240.6,233.5 L240.8,232.2 L240.9,234.5 L241.0,234.8 L241.1,234.0 L241.3,234.7 L241.4,231.5 L241.5,234.3 L241.6,233.2 L241.8,235.0 L241.9,233.3 L242.0,233.9 L242.1,233.9 L242.2,235.3 L242.4,235.0 L242.5,232.2 L242.6,234.1 L242.7,234.5 L242.9,234.8 L243.0,234.4 L243.1,234.6 L243.2,235.4 L243.4,232.9 L243.5,234.2 L243.6,234.9 L243.7,232.7 L243.8,235.2 L244.0,234.5 L244.1,232.2 L244.2,235.1 L244.3,233.8 L244.5,232.2 L244.6,232.3 L244.7,235.0 L244.8,234.2 L245.0,232.7 L245.1,234.1 L245.2,231.7 L245.3,234.8 L245.4,231.8 L245.6,233.6 L245.7,234.7 L245.8,233.8 L245.9,235.1 L246.1,232.8 L246.2,234.6 L246.3,232.0 L246.4,233.3 L246.6,234.2 L246.7,234.7 L246.8,233.2 L246.9,234.8 L247.0,232.1 L247.2,235.2 L247.3,233.6 L247.4,233.5 L247.5,234.6 L247.7,232.5 L247.8,234.1 L247.9,233.0 L247.9,233.4 L247.9,234.4 L248.0,234.1 L248.0,152.1 L248.0,153.2 L248.2,155.6 L248.3,162.3 L248.4,163.9 L248.5,168.9 L248.6,168.7 L248.8,171.0 L248.9,171.5 L249.0,173.3 L249.1,175.1 L249.3,174.5 L249.4,175.4 L249.5,176.3 L249.6,173.9 L249.8,176.2 L249.9,175.9 L250.0,173.7 L250.1,174.6 L250.2,174.2 L250.4,174.5 L250.5,178.1 L250.6,177.5 L250.7,178.8 L250.9,175.9 L251.0,176.1 L251.1,177.7 L251.2,177.5 L251.4,176.5 L251.5,176.4 L251.6,178.6 L251.7,175.9 L251.8,178.3 L252.0,177.1 L252.1,179.3 L252.2,179.7 L252.3,176.1 L252.5,177.0 L252.6,177.1 L252.7,180.3 L252.8,180.4 L253.0,179.9 L253.1,179.8 L253.2,179.4 L253.3,179.1 L253.4,180.7 L253.6,179.5 L253.7,178.1 L253.8,180.2 L253.9,177.2 L254.1,178.5 L254.2,177.9 L254.3,180.1 L254.4,179.3 L254.6,178.2 L254.7,179.8 L254.8,181.4 L254.9,177.6 L255.0,177.9 L255.2,180.2 L255.3,181.4 L255.4,177.7 L255.5,178.8 L255.7,181.5 L255.8,180.6 L255.9,181.2 L256.0,178.1 L256.2,180.9 L256.3,177.6 L256.4,178.4 L256.5,181.5 L256.6,178.7 L256.8,180.1 L256.9,178.5 L257.0,178.2 L257.1,180.8 L257.3,181.7 L257.4,177.7 L257.5,180.2 L257.6,177.8 L257.8,179.0 L257.9,178.8 L258.0,178.4 L258.1,179.3 L258.2,180.2 L258.4,182.0 L258.5,179.1 L258.6,180.4 L258.7,180.0 L258.9,178.1 L259.0,181.8 L259.1,178.9 L259.2,182.2 L259.4,179.2 L259.5,178.7 L259.6,181.3 L259.7,180.0 L259.8,178.0 L260.0,179.6 L260.1,180.1 L260.2,181.4 L260.3,182.3 L260.5,181.0 L260.6,180.7 L260.7,181.7 L260.8,181.3 L261.0,182.1 L261.1,179.5 L261.2,179.6 L261.3,181.7 L261.4,181.7 L261.6,180.4 L261.7,180.8 L261.8,178.5 L261.9,181.2 L262.1,181.5 L262.2,178.8 L262.3,182.2 L262.4,180.3 L262.6,181.4 L262.7,179.2 L262.8,180.4 L262.9,179.5 L263.0,182.2 L263.2,179.9 L263.3,180.3 L263.4,180.9 L263.5,179.5 L263.7,179.2 L263.8,182.6 L263.9,181.8 L264.0,181.5 L264.2,182.2 L264.3,182.9 L264.4,181.9 L264.5,182.3 L264.6,180.0 L264.8,181.2 L264.9,182.7 L265.0,181.8 L265.1,181.1 L265.3,181.6 L265.4,182.5 L265.5,183.0 L265.6,183.3 L265.8,178.8 L265.9,179.9 L266.0,183.0 L266.1,180.1 L266.2,178.9 L266.4,180.8 L266.5,183.0 L266.6,181.2 L266.7,181.5 L266.9,182.6 L267.0,181.0 L267.1,183.5 L267.2,179.3 L267.4,180.6 L267.5,180.7 L267.6,179.3 L267.7,180.6 L267.8,182.5 L268.0,182.5 L268.1,183.0 L268.2,183.5 L268.3,180.1 L268.5,179.8 L268.6,182.3 L268.7,182.9 L268.8,180.8 L269.0,179.8 L269.1,179.5 L269.2,183.0 L269.3,180.2 L269.4,180.0 L269.6,180.4 L269.7,182.3 L269.8,183.0 L269.9,180.1 L270.1,182.4 L270.2,182.2 L270.3,181.4 L270.4,182.2 L270.6,180.1 L270.7,182.9 L270.8,183.8 L270.9,181.4 L271.0,181.1 L271.2,180.2 L271.3,180.8 L271.4,179.9 L271.5,179.7 L271.7,181.8 L271.8,181.8 L271.9,183.4 L272.0,182.8 L272.2,181.5 L272.3,183.8 L272.4,181.0 L272.5,183.5 L272.6,182.2 L272.8,179.7 L272.9,183.8 L273.0,184.1 L273.1,182.3 L273.3,183.4 L273.4,181.0 L273.5,184.3 L273.6,180.5 L273.8,180.4 L273.9,180.7 L274.0,182.4 L274.1,183.1 L274.2,181.4 L274.4,182.1 L274.5,182.5 L274.6,182.9 L274.7,182.5 L274.9,181.4 L275.0,180.7 L275.1,180.3 L275.2,183.8 L275.4,183.2 L275.5,182.5 L275.6,182.0 L275.7,183.0 L275.8,183.7 L275.9,184.2 L275.9,240.8 L276.0,239.3 L276.1,235.5 L276.2,234.1 L276.3,232.6 L276.5,230.5 L276.6,228.9 L276.7,230.3 L276.8,229.5 L277.0,232.6 L277.1,230.2 L277.2,230.5 L277.3,231.8 L277.4,230.7 L277.6,229.2 L277.7,231.1 L277.8,230.5 L277.9,231.9 L278.1,231.8 L278.2,229.6 L278.3,233.1 L278.4,232.5 L278.6,230.5 L278.7,231.5 L278.8,233.0 L278.9,230.7 L279.0,231.9 L279.2,231.1 L279.3,231.8 L279.4,231.3 L279.5,231.2 L279.7,232.0 L279.8,233.1 L279.9,232.9 L280.0,230.0 L280.2,231.4 L280.3,233.2 L280.4,230.2 L280.5,232.7 L280.6,233.4 L280.8,231.6 L280.9,232.8 L281.0,231.9 L281.1,231.6 L281.3,233.0 L281.4,231.6 L281.5,233.5 L281.6,231.9 L281.8,231.6 L281.9,233.7 L282.0,232.4 L282.1,233.8 L282.2,232.3 L282.4,230.6 L282.5,231.9 L282.6,231.2 L282.7,231.1 L282.9,233.7 L283.0,230.2 L283.1,231.3 L283.2,233.8 L283.4,230.9 L283.5,232.7 L283.6,233.6 L283.7,230.4 L283.8,232.0 L284.0,231.2 L284.1,233.8 L284.2,231.2 L284.3,234.2 L284.5,233.5 L284.6,232.9 L284.7,234.4 L284.8,232.1 L285.0,233.6 L285.1,233.3 L285.2,231.6 L285.3,232.8 L285.4,230.9 L285.6,232.0 L285.7,231.0 L285.8,232.3 L285.9,230.9 L286.1,231.1 L286.2,234.0 L286.3,231.6 L286.4,233.3 L286.6,231.6 L286.7,231.9 L286.8,231.4 L286.9,234.2 L287.0,233.2 L287.2,231.8 L287.3,230.9 L287.4,231.8 L287.5,234.6 L287.7,232.4 L287.8,234.4 L287.9,232.6 L288.0,231.6 L288.2,234.4 L288.3,231.1 L288.4,232.1 L288.5,233.9 L288.6,234.1 L288.8,233.1 L288.9,231.5 L289.0,232.6 L289.1,234.5 L289.3,234.9 L289.4,234.5 L289.5,231.7 L289.6,234.3 L289.8,232.8 L289.9,233.9 L290.0,232.2 L290.1,233.5 L290.2,234.5 L290.4,231.5 L290.5,232.9 L290.6,232.3 L290.7,231.8 L290.9,231.2 L291.0,235.1 L291.1,233.7 L291.2,234.5 L291.4,233.1 L291.5,231.6 L291.6,231.9 L291.7,235.0 L291.8,234.5 L292.0,231.9 L292.1,232.4 L292.2,233.6 L292.3,233.3 L292.5,234.6 L292.6,231.8 L292.7,233.6 L292.8,231.7 L293.0,232.8 L293.1,235.0 L293.2,233.9 L293.3,234.4 L293.4,231.6 L293.6,232.9 L293.7,235.1 L293.8,234.6 L293.9,233.9 L294.1,233.4 L294.2,233.0 L294.3,233.8 L294.4,233.9 L294.6,235.3 L294.7,233.0 L294.8,234.0 L294.9,235.3 L295.0,233.5 L295.2,231.4 L295.3,235.2 L295.4,234.8 L295.5,232.7 L295.7,234.3 L295.8,234.3 L295.9,233.4 L296.0,234.4 L296.2,233.1 L296.3,233.3 L296.4,231.6 L296.5,231.4 L296.6,235.3 L296.8,233.2 L296.9,232.3 L297.0,231.9 L297.1,232.3 L297.3,232.9 L297.4,232.9 L297.5,234.0 L297.6,234.4 L297.8,232.3 L297.9,232.0 L298.0,231.7 L298.1,232.8 L298.2,234.3 L298.4,232.4 L298.5,232.5 L298.6,233.5 L298.7,233.0 L298.9,234.1 L299.0,233.3 L299.1,233.9 L299.2,235.3 L299.4,234.2 L299.5,234.3 L299.6,231.6 L299.7,233.6 L299.8,234.1 L300.0,234.6 L300.1,234.7 L300.2,234.2 L300.3,235.1 L300.5,235.6 L300.6,232.1 L300.7,233.8 L300.8,233.8 L301.0,233.3 L301.1,234.4 L301.2,235.0 L301.3,235.4 L301.4,234.4 L301.6,234.4 L301.7,232.7 L301.8,233.4 L301.9,231.8 L302.1,234.3 L302.2,231.9 L302.3,233.3 L302.4,235.4 L302.6,235.0 L302.6,233.3 L302.6,231.7 L302.7,234.2 L302.7,232.5 L302.7,150.5 L302.8,153.4 L302.9,162.0 L303.0,163.8 L303.2,164.7 L303.3,169.7 L303.4,171.5 L303.5,173.9 L303.7,174.2 L303.8,174.5 L303.9,173.1 L304.0,175.9 L304.2,175.5 L304.3,176.8 L304.4,175.2 L304.5,174.3 L304.6,175.5 L304.8,177.8 L304.9,175.5 L305.0,174.7 L305.1,176.5 L305.3,179.1 L305.4,175.8 L305.5,175.7 L305.6,178.3 L305.8,179.3 L305.9,179.2 L306.0,177.7 L306.1,176.2 L306.2,177.4 L306.4,176.2 L306.5,179.6 L306.6,179.2 L306.7,177.3 L306.9,177.9 L307.0,179.1 L307.1,177.9 L307.2,179.5 L307.4,180.9 L307.5,179.3 L307.6,181.1 L307.7,178.5 L307.8,179.9 L308.0,179.2 L308.1,178.8 L308.2,180.4 L308.3,179.5 L308.5,181.7 L308.6,177.5 L308.7,179.2 L308.8,177.3 L309.0,181.7 L309.1,179.1 L309.2,178.7 L309.3,180.5 L309.4,181.7 L309.6,181.4 L309.7,181.5 L309.8,178.7 L309.9,181.8 L310.1,178.5 L310.2,180.4 L310.3,179.9 L310.4,179.7 L310.6,179.9 L310.7,179.4 L310.8,179.7 L310.9,181.0 L311.0,179.1 L311.2,181.4 L311.3,179.3 L311.4,179.1 L311.5,179.1 L311.7,181.3 L311.8,179.1 L311.9,178.2 L312.0,180.7 L312.2,181.5 L312.3,180.4 L312.4,178.5 L312.5,182.3 L312.6,182.9 L312.8,180.7 L312.9,179.9 L313.0,179.4 L313.1,181.3 L313.3,178.4 L313.4,182.0 L313.5,179.5 L313.6,182.7 L313.8,183.0 L313.9,182.5 L314.0,182.9 L314.1,180.8 L314.2,180.6 L314.4,182.4 L314.5,178.9 L314.6,181.5 L314.7,182.6 L314.9,182.5 L315.0,179.9 L315.1,179.0 L315.2,182.6 L315.4,183.2 L315.5,179.8 L315.6,182.3 L315.7,178.8 L315.8,181.1 L316.0,180.5 L316.1,181.9 L316.2,179.8 L316.3,181.4 L316.5,182.0 L316.6,179.3 L316.7,183.0 L316.8,180.2 L317.0,183.3 L317.1,180.6 L317.2,181.8 L317.3,179.6 L317.4,183.4 L317.6,181.0 L317.7,181.8 L317.8,179.4 L317.9,179.3 L318.1,180.8 L318.2,182.7 L318.3,182.6 L318.4,182.6 L318.6,181.8 L318.7,182.7 L318.8,182.9 L318.9,180.3 L319.0,180.9 L319.2,182.5 L319.3,179.3 L319.4,182.9 L319.5,181.3 L319.7,183.2 L319.8,180.0 L319.9,179.9 L320.0,182.7 L320.2,180.5 L320.3,180.2 L320.4,182.7 L320.5,182.5 L320.6,181.8 L320.8,180.0 L320.9,183.4 L321.0,180.9 L321.1,181.4 L321.3,182.0 L321.4,181.5 L321.5,180.1 L321.6,183.2 L321.8,180.1 L321.9,182.6 L322.0,180.6 L322.1,180.3 L322.2,183.4 L322.4,180.3 L322.5,179.7 L322.6,182.9 L322.7,184.2 L322.9,183.8 L323.0,179.8 L323.1,184.3 L323.2,180.2 L323.4,183.7 L323.5,181.0 L323.6,184.0 L323.7,183.7 L323.8,181.3 L324.0,184.1 L324.1,182.9 L324.2,180.3 L324.3,181.2 L324.5,180.5 L324.6,180.0 L324.7,184.4 L324.8,183.5 L325.0,180.9 L325.1,181.4 L325.2,184.5 L325.3,182.3 L325.4,183.6 L325.6,182.7 L325.7,184.2 L325.8,184.6 L325.9,180.1 L326.1,183.3 L326.2,180.7 L326.3,184.2 L326.4,182.5 L326.6,184.2 L326.7,182.8 L326.8,184.0 L326.9,181.7 L327.0,184.2 L327.2,181.5 L327.3,182.6 L327.4,184.4 L327.5,183.3 L327.7,182.7 L327.8,180.7 L327.9,183.4 L328.0,184.0 L328.2,180.5 L328.3,180.9 L328.4,181.7 L328.5,183.8 L328.6,184.3 L328.8,183.9 L328.9,184.8 L329.0,184.9 L329.1,182.8 L329.3,183.3 L329.4,182.6 L329.5,183.5 L329.6,185.1 L329.8,182.0 L329.9,182.2 L330.0,182.7 L330.1,182.7 L330.2,182.0 L330.4,180.7 L330.5,181.2 L330.5,239.2 L330.5,240.1 L330.6,238.8 L330.7,236.7 L330.9,232.7 L331.0,233.4 L331.1,231.8 L331.2,231.1 L331.4,232.3 L331.5,228.8 L331.6,232.9 L331.7,230.5 L331.8,229.2 L332.0,232.0 L332.1,230.6 L332.2,231.5 L332.3,232.1 L332.5,232.3 L332.6,232.7 L332.7,229.8 L332.8,230.0 L333.0,229.6 L333.1,233.1 L333.2,230.5 L333.3,232.0 L333.4,230.8 L333.6,231.2 L333.7,232.2 L333.8,229.5 L333.9,233.5 L334.1,230.5 L334.2,230.1 L334.3,231.5 L334.4,231.2 L334.6,229.6 L334.7,232.7 L334.8,231.1 L334.9,230.7 L335.0,232.2 L335.2,230.9 L335.3,232.2 L335.4,231.7 L335.5,231.3 L335.7,231.1 L335.8,232.6 L335.9,231.3 L336.0,231.7 L336.2,233.1 L336.3,231.5 L336.4,232.9 L336.5,230.3 L336.6,232.1 L336.8,231.1 L336.9,232.0 L337.0,232.2 L337.1,233.2 L337.3,233.6 L337.4,230.4 L337.5,232.0 L337.6,232.1 L337.8,232.1 L337.9,230.9 L338.0,233.3 L338.1,233.6 L338.2,231.0 L338.4,232.5 L338.5,231.7 L338.6,231.0 L338.7,230.7 L338.9,230.9 L339.0,234.2 L339.1,232.9 L339.2,231.1 L339.4,231.1 L339.5,234.0 L339.6,233.9 L339.7,233.5 L339.8,234.1 L340.0,233.1 L340.1,231.3 L340.2,232.5 L340.3,232.8 L340.5,234.3 L340.6,233.0 L340.7,230.6 L340.8,231.8 L341.0,232.8 L341.1,232.7 L341.2,231.4 L341.3,231.6 L341.4,234.1 L341.6,232.0 L341.7,233.3 L341.8,232.7 L341.9,233.8 L342.1,233.3 L342.2,233.4 L342.3,233.3 L342.4,234.8 L342.6,234.0 L342.7,232.5 L342.8,234.7 L342.9,234.2 L343.0,232.0 L343.2,233.8 L343.3,233.6 L343.4,234.0 L343.5,231.5 L343.7,234.6 L343.8,232.4 L343.9,231.5 L344.0,234.2 L344.2,233.3 L344.3,231.8 L344.4,232.5 L344.5,233.5 L344.6,234.9 L344.8,233.3 L344.9,233.6 L345.0,232.2 L345.1,233.9 L345.3,233.4 L345.4,232.5 L345.5,231.8 L345.6,233.7 L345.8,233.6 L345.9,232.8 L346.0,231.4 L346.1,234.4 L346.2,231.2 L346.4,232.3 L346.5,233.7 L346.6,232.5 L346.7,233.9 L346.9,234.9 L347.0,232.1 L347.1,233.7 L347.2,233.1 L347.4,233.2 L347.5,231.6 L347.6,232.2 L347.7,235.2 L347.8,232.9 L348.0,233.4 L348.1,233.4 L348.2,231.9 L348.3,233.6 L348.5,233.4 L348.6,231.7 L348.7,233.5 L348.8,233.3 L349.0,233.3 L349.1,232.0 L349.2,232.6 L349.3,232.4 L349.4,233.7 L349.6,235.2 L349.7,232.6 L349.8,233.1 L349.9,232.3 L350.1,232.3 L350.2,234.9 L350.3,234.5 L350.4,235.1 L350.6,232.1 L350.7,235.0 L350.8,235.1 L350.9,232.4 L351.0,233.2 L351.2,235.3 L351.3,232.7 L351.4,232.6 L351.5,233.5 L351.7,235.3 L351.8,232.7 L351.9,233.8 L352.0,233.1 L352.2,231.4 L352.3,232.2 L352.4,232.0 L352.5,234.9 L352.6,234.2 L352.8,233.4 L352.9,235.5 L353.0,231.5 L353.1,234.4 L353.3,234.5 L353.4,234.3 L353.5,234.5 L353.6,232.1 L353.8,233.3 L353.9,233.5 L354.0,233.9 L354.1,235.4 L354.2,234.4 L354.4,232.1 L354.5,232.3 L354.6,232.1 L354.7,234.6 L354.9,234.8 L355.0,235.4 L355.1,233.4 L355.2,234.1 L355.4,233.7 L355.5,233.6 L355.6,233.3 L355.7,234.2 L355.8,232.4 L356.0,234.8 L356.1,231.9 L356.2,233.4 L356.3,235.5 L356.5,234.4 L356.6,233.5 L356.7,234.0 L356.8,233.4 L357.0,234.4 L357.1,234.6 L357.2,232.4 L357.3,234.5 L357.4,232.8 L357.6,232.4 L357.7,233.3 L357.8,233.9 L357.9,231.9 L358.1,233.9 L358.1,232.1 L358.1,235.5 L358.2,233.9 L358.2,233.1 L358.2,148.2 L358.3,149.5 L358.4,159.2 L358.6,161.3 L358.7,166.6 L358.8,165.8 L358.9,169.4 L359.0,169.9 L359.2,172.4 L359.3,172.6 L359.4,173.3 L359.5,175.7 L359.7,176.5 L359.8,174.0 L359.9,177.6 L360.0,174.3 L360.2,177.8 L360.3,178.6 L360.4,178.8 L360.5,175.8 L360.6,175.2 L360.8,177.8 L360.9,176.8 L361.0,178.8 L361.1,176.0 L361.3,177.1 L361.4,179.7 L361.5,180.3 L361.6,177.4 L361.8,180.5 L361.9,177.0 L362.0,179.6 L362.1,179.9 L362.2,178.4 L362.4,179.7 L362.5,178.7 L362.6,180.6 L362.7,177.2 L362.9,180.0 L363.0,177.7 L363.1,180.9 L363.2,178.0 L363.4,177.2 L363.5,180.0 L363.6,181.7 L363.7,180.2 L363.8,179.0 L364.0,181.0 L364.1,179.6 L364.2,181.7 L364.3,180.1 L364.5,178.9 L364.6,180.3 L364.7,179.2 L364.8,181.9 L365.0,178.6 L365.1,181.9 L365.2,178.2 L365.3,177.9 L365.4,178.2 L365.6,180.2 L365.7,181.3 L365.8,181.1 L365.9,179.3 L366.1,180.5 L366.2,178.5 L366.3,182.4 L366.4,180.6 L366.6,178.9 L366.7,180.2 L366.8,180.4 L366.9,182.6 L367.0,182.4 L367.2,181.8 L367.3,178.9 L367.4,179.2 L367.5,182.1 L367.7,178.9 L367.8,183.0 L367.9,180.4 L368.0,178.7 L368.2,181.6 L368.3,178.9 L368.4,180.2 L368.5,183.1 L368.6,181.8 L368.8,181.3 L368.9,182.2 L369.0,180.0 L369.1,182.6 L369.3,179.8 L369.4,182.1 L369.5,183.2 L369.6,180.9 L369.8,183.1 L369.9,181.0 L370.0,179.9 L370.1,180.8 L370.2,181.5 L370.4,183.5 L370.5,181.3 L370.6,183.2 L370.7,180.7 L370.9,183.1 L371.0,181.0 L371.1,182.1 L371.2,182.0 L371.3,180.7 L371.5,183.0 L371.6,183.0 L371.7,179.4 L371.8,182.3 L372.0,179.9 L372.1,179.8 L372.2,181.7 L372.3,183.2 L372.5,183.5 L372.6,179.9 L372.7,183.4 L372.8,181.7 L372.9,181.5 L373.1,183.5 L373.2,181.9 L373.3,183.3 L373.4,181.6 L373.6,181.7 L373.7,182.4 L373.8,183.2 L373.9,182.2 L374.1,183.2 L374.2,183.6 L374.3,183.1 L374.4,180.1 L374.5,181.9 L374.7,180.1 L374.8,184.2 L374.9,179.9 L375.0,182.0 L375.2,180.6 L375.3,181.7 L375.4,181.1 L375.5,183.3 L375.7,180.9 L375.8,183.6 L375.9,183.2 L376.0,184.2 L376.1,182.6 L376.3,182.0 L376.4,183.1 L376.5,180.3 L376.6,184.1 L376.8,181.8 L376.9,183.4 L377.0,181.8 L377.1,180.9 L377.3,181.3 L377.4,184.3 L377.5,183.4 L377.6,181.8 L377.7,180.1 L377.9,184.4 L378.0,181.8 L378.1,181.4 L378.2,180.9 L378.4,183.1 L378.5,180.9 L378.6,182.6 L378.7,180.5 L378.9,184.7 L379.0,180.4 L379.1,182.9 L379.2,182.9 L379.3,184.4 L379.5,183.7 L379.6,181.4 L379.7,181.7 L379.8,184.2 L380.0,183.3 L380.1,184.3 L380.2,184.0 L380.3,183.9 L380.5,183.4 L380.6,180.4 L380.7,180.4 L380.8,181.3 L380.9,182.8 L381.1,182.7 L381.2,181.4 L381.3,180.8 L381.4,181.6 L381.6,182.1 L381.7,184.2 L381.8,182.2 L381.9,181.2 L382.1,181.5 L382.2,184.7 L382.3,181.9 L382.4,183.6 L382.5,184.5 L382.7,180.8 L382.8,182.1 L382.9,181.8 L383.0,184.6 L383.2,181.4 L383.3,181.0 L383.4,181.1 L383.5,181.9 L383.7,181.5 L383.8,181.6 L383.9,182.6 L384.0,183.4 L384.1,181.6 L384.3,181.8 L384.4,181.4 L384.5,184.1 L384.6,181.0 L384.8,183.0 L384.9,181.1 L385.0,185.0 L385.0,181.0 L385.0,238.9 L385.1,239.6 L385.3,235.5 L385.4,236.3 L385.5,234.8 L385.6,232.0 L385.7,231.8 L385.9,230.8 L386.0,229.2 L386.1,230.1 L386.2,230.0 L386.4,231.4 L386.5,229.8 L386.6,229.8 L386.7,230.3 L386.9,229.3 L387.0,229.8 L387.1,231.5 L387.2,232.8 L387.3,230.6 L387.5,229.8 L387.6,231.9 L387.7,230.9 L387.8,229.9 L388.0,230.1 L388.1,233.4 L388.2,231.4 L388.3,233.4 L388.5,233.0 L388.6,230.2 L388.7,231.8 L388.8,231.1 L388.9,231.7 L389.1,232.3 L389.2,232.8 L389.3,232.2 L389.4,230.3 L389.6,231.2 L389.7,232.6 L389.8,233.4 L389.9,232.7 L390.1,231.0 L390.2,232.1 L390.3,231.2 L390.4,230.6 L390.5,233.4 L390.7,231.2 L390.8,233.8 L390.9,230.6 L391.0,233.3 L391.2,232.9 L391.3,230.1 L391.4,232.6 L391.5,233.2 L391.7,230.5 L391.8,231.7 L391.9,230.5 L392.0,232.6 L392.1,232.2 L392.3,230.3 L392.4,232.2 L392.5,230.2 L392.6,233.5 L392.8,230.9 L392.9,233.7 L393.0,232.2 L393.1,234.4 L393.3,233.7 L393.4,230.5 L393.5,232.6 L393.6,231.1 L393.7,233.4 L393.9,233.0 L394.0,234.1 L394.1,232.2 L394.2,231.0 L394.4,232.4 L394.5,233.0 L394.6,230.8 L394.7,230.9 L394.9,231.9 L395.0,234.3 L395.1,232.1 L395.2,232.8 L395.3,230.7 L395.5,233.2 L395.6,232.0 L395.7,232.1 L395.8,233.2 L396.0,232.6 L396.1,232.0 L396.2,231.1 L396.3,232.7 L396.5,233.3 L396.6,230.8 L396.7,234.6 L396.8,231.4 L396.9,232.0 L397.1,232.6 L397.2,233.0 L397.3,231.8 L397.4,231.2 L397.6,231.9 L397.7,231.9 L397.8,234.8 L397.9,233.6 L398.1,234.4 L398.2,231.1 L398.3,231.3 L398.4,234.4 L398.5,232.6 L398.7,232.7 L398.8,234.8 L398.9,233.4 L399.0,232.0 L399.2,232.4 L399.3,233.9 L399.4,232.0 L399.5,233.9 L399.7,232.9 L399.8,233.4 L399.9,231.1 L400.0,232.5 L400.1,231.8 L400.3,232.4 L400.4,233.6 L400.5,231.2 L400.6,232.3 L400.8,232.4 L400.9,234.1 L401.0,234.5 L401.1,232.9 L401.3,231.8 L401.4,232.0 L401.5,233.8 L401.6,234.7 L401.7,233.1 L401.9,231.7 L402.0,234.6 L402.1,232.3 L402.2,234.6 L402.4,234.0 L402.5,235.1 L402.6,234.1 L402.7,233.7 L402.9,231.4 L403.0,231.4 L403.1,234.6 L403.2,234.1 L403.3,231.5 L403.5,234.6 L403.6,234.1 L403.7,233.6 L403.8,234.9 L404.0,234.3 L404.1,233.8 L404.2,233.8 L404.3,231.5 L404.5,234.3 L404.6,234.6 L404.7,231.7 L404.8,233.6 L404.9,232.0 L405.1,232.8 L405.2,232.3 L405.3,234.2 L405.4,234.8 L405.6,232.4 L405.7,233.6 L405.8,233.2 L405.9,232.7 L406.1,232.4 L406.2,234.4 L406.3,234.0 L406.4,231.8 L406.5,233.3 L406.7,234.3 L406.8,232.9 L406.9,234.5 L407.0,232.4 L407.2,235.4 L407.3,232.2 L407.4,233.2 L407.5,234.1 L407.7,231.7 L407.8,234.5 L407.9,234.6 L408.0,235.3 L408.1,233.3 L408.3,232.5 L408.4,232.8 L408.5,233.9 L408.6,232.3 L408.8,235.1 L408.9,234.4 L409.0,233.0 L409.1,231.7 L409.3,233.0 L409.4,232.8 L409.5,232.5 L409.6,234.0 L409.7,231.8 L409.9,232.6 L410.0,234.2 L410.1,234.0 L410.2,232.4 L410.4,234.2 L410.5,234.9 L410.6,232.1 L410.7,233.5 L410.9,233.5 L411.0,232.9 L411.1,232.0 L411.2,235.1 L411.3,234.3 L411.5,235.4 L411.6,234.0 L411.7,233.6 L411.8,232.2 L412.0,233.0 L412.1,233.3 L412.2,234.1 L412.3,233.4 L412.5,234.6 L412.5,232.3 L412.5,232.5 L412.6,232.3 L412.6,235.1 L412.6,146.7 L412.7,149.5 L412.8,156.5 L412.9,159.1 L413.1,162.4 L413.2,165.7 L413.3,167.3 L413.4,169.6 L413.6,169.7 L413.7,174.1 L413.8,172.1 L413.9,172.7 L414.1,173.6 L414.2,175.6 L414.3,176.9 L414.4,174.7 L414.5,173.9 L414.7,176.7 L414.8,177.2 L414.9,177.3 L415.0,178.1 L415.2,175.6 L415.3,174.3 L415.4,175.3 L415.5,177.5 L415.7,176.0 L415.8,179.0 L415.9,175.6 L416.0,178.1 L416.1,179.7 L416.3,176.9 L416.4,179.2 L416.5,178.7 L416.6,179.8 L416.8,178.1 L416.9,177.7 L417.0,176.6 L417.1,180.2 L417.3,176.6 L417.4,180.0 L417.5,179.6 L417.6,177.8 L417.7,179.2 L417.9,179.3 L418.0,178.2 L418.1,179.9 L418.2,177.3 L418.4,180.1 L418.5,177.2 L418.6,177.4 L418.7,178.7 L418.9,181.1 L419.0,177.7 L419.1,181.2 L419.2,179.0 L419.3,179.4 L419.5,181.2 L419.6,178.6 L419.7,178.2 L419.8,178.9 L420.0,179.7 L420.1,179.3 L420.2,178.9 L420.3,180.7 L420.5,177.7 L420.6,177.2 L420.7,178.1 L420.8,177.4 L420.9,180.3 L421.1,177.3 L421.2,181.6 L421.3,179.7 L421.4,181.4 L421.6,179.9 L421.7,178.9 L421.8,178.8 L421.9,180.0 L422.1,180.5 L422.2,181.3 L422.3,180.3 L422.4,180.9 L422.5,181.3 L422.7,178.8 L422.8,179.9 L422.9,180.2 L423.0,181.4 L423.2,179.1 L423.3,181.4 L423.4,181.1 L423.5,179.8 L423.7,179.2 L423.8,177.9 L423.9,179.0 L424.0,178.1 L424.1,178.2 L424.3,179.2 L424.4,179.2 L424.5,182.3 L424.6,181.6 L424.8,182.5 L424.9,178.6 L425.0,179.3 L425.1,179.7 L425.3,181.4 L425.4,181.0 L425.5,181.9 L425.6,179.8 L425.7,178.1 L425.9,181.3 L426.0,182.6 L426.1,182.0 L426.2,181.2 L426.4,178.7 L426.5,179.1 L426.6,180.7 L426.7,182.4 L426.9,182.4 L427.0,182.2 L427.1,179.3 L427.2,180.8 L427.3,178.4 L427.5,178.7 L427.6,179.3 L427.7,180.8 L427.8,179.2 L428.0,182.4 L428.1,182.6 L428.2,180.5 L428.3,180.7 L428.5,182.1 L428.6,182.0 L428.7,183.0 L428.8,178.9 L428.9,179.9 L429.1,178.8 L429.2,178.7 L429.3,181.2 L429.4,179.8 L429.6,181.5 L429.7,179.5 L429.8,179.4 L429.9,182.7 L430.1,183.3 L430.2,182.3 L430.3,180.6 L430.4,181.6 L430.5,183.3 L430.7,179.5 L430.8,179.8 L430.9,181.3 L431.0,183.2 L431.2,179.3 L431.3,181.0 L431.4,183.2 L431.5,182.0 L431.7,180.6 L431.8,179.4 L431.9,181.3 L432.0,180.6 L432.1,182.6 L432.3,182.5 L432.4,179.4 L432.5,181.9 L432.6,183.2 L432.8,180.9 L432.9,183.1 L433.0,182.8 L433.1,181.6 L433.3,181.0 L433.4,180.8 L433.5,180.5 L433.6,181.7 L433.7,183.5 L433.9,180.4 L434.0,183.6 L434.1,181.7 L434.2,182.0 L434.4,180.7 L434.5,180.6 L434.6,182.8 L434.7,180.9 L434.9,180.7 L435.0,181.8 L435.1,183.3 L435.2,179.8 L435.3,181.2 L435.5,183.7 L435.6,182.9 L435.7,179.5 L435.8,183.0 L436.0,182.2 L436.1,180.4 L436.2,180.3 L436.3,181.2 L436.5,180.7 L436.6,184.0 L436.7,183.7 L436.8,179.6 L436.9,180.5 L437.1,184.0 L437.2,184.0 L437.3,183.1 L437.4,179.9 L437.6,183.2 L437.7,181.2 L437.8,180.0 L437.9,181.3 L438.1,180.1 L438.2,183.1 L438.3,183.6 L438.4,184.3 L438.5,180.9 L438.7,183.9 L438.8,179.9" fill="none" stroke="#ff4d4d" stroke-width="1.9" stroke-linejoin="round"/>
<rect x="125.00" y="7.30" width="314.70" height="232.70" fill="none" stroke="#000" stroke-width="3"/>
<line x1="115.50" y1="233.40" x2="125.00" y2="233.40" stroke="#000" stroke-width="2.6" />
<text x="111.50" y="238.10" font-family='"Liberation Serif", "Times New Roman", serif' font-weight="bold" font-size="16" text-anchor="end" fill="#000" >0.0</text>
<line x1="119.50" y1="216.35" x2="125.00" y2="216.35" stroke="#000" stroke-width="2.6" />
<line x1="115.50" y1="199.30" x2="125.00" y2="199.30" stroke="#000" stroke-width="2.6" />
<text x="111.50" y="204.00" font-family='"Liberation Serif", "Times New Roman", serif' font-weight="bold" font-size="16" text-anchor="end" fill="#000" >0.5</text>
<line x1="119.50" y1="182.25" x2="125.00" y2="182.25" stroke="#000" stroke-width="2.6" />
<line x1="115.50" y1="165.20" x2="125.00" y2="165.20" stroke="#000" stroke-width="2.6" />
<text x="111.50" y="169.90" font-family='"Liberation Serif", "Times New Roman", serif' font-weight="bold" font-size="16" text-anchor="end" fill="#000" >1.0</text>
<line x1="119.50" y1="148.15" x2="125.00" y2="148.15" stroke="#000" stroke-width="2.6" />
<line x1="115.50" y1="131.10" x2="125.00" y2="131.10" stroke="#000" stroke-width="2.6" />
<text x="111.50" y="135.80" font-family='"Liberation Serif", "Times New Roman", serif' font-weight="bold" font-size="16" text-anchor="end" fill="#000" >1.5</text>
<line x1="119.50" y1="114.05" x2="125.00" y2="114.05" stroke="#000" stroke-width="2.6" />
<line x1="115.50" y1="97.00" x2="125.00" y2="97.00" stroke="#000" stroke-width="2.6" />
<text x="111.50" y="101.70" font-family='"Liberation Serif", "Times New Roman", serif' font-weight="bold" font-size="16" text-anchor="end" fill="#000" >2.0</text>
<line x1="119.50" y1="79.95" x2="125.00" y2="79.95" stroke="#000" stroke-width="2.6" />
<line x1="115.50" y1="62.90" x2="125.00" y2="62.90" stroke="#000" stroke-width="2.6" />
<text x="111.50" y="67.60" font-family='"Liberation Serif", "Times New Roman", serif' font-weight="bold" font-size="16" text-anchor="end" fill="#000" >2.5</text>
<line x1="119.50" y1="45.85" x2="125.00" y2="45.85" stroke="#000" stroke-width="2.6" />
<line x1="115.50" y1="28.80" x2="125.00" y2="28.80" stroke="#000" stroke-width="2.6" />
<text x="111.50" y="33.50" font-family='"Liberation Serif", "Times New Roman", serif' font-weight="bold" font-size="16" text-anchor="end" fill="#000" >3.0</text>
<line x1="119.50" y1="11.75" x2="125.00" y2="11.75" stroke="#000" stroke-width="2.6" />
<line x1="125.20" y1="240.00" x2="125.20" y2="249.50" stroke="#000" stroke-width="2.6" />
<text x="125.20" y="268.20" font-family='"Liberation Serif", "Times New Roman", serif' font-weight="bold" font-size="16" text-anchor="middle" fill="#000" >0</text>
<line x1="152.55" y1="240.00" x2="152.55" y2="246.00" stroke="#000" stroke-width="2.6" />
<line x1="179.90" y1="240.00" x2="179.90" y2="249.50" stroke="#000" stroke-width="2.6" />
<text x="179.90" y="268.20" font-family='"Liberation Serif", "Times New Roman", serif' font-weight="bold" font-size="16" text-anchor="middle" fill="#000" >20</text>
<line x1="207.25" y1="240.00" x2="207.25" y2="246.00" stroke="#000" stroke-width="2.6" />
<line x1="234.60" y1="240.00" x2="234.60" y2="249.50" stroke="#000" stroke-width="2.6" />
<text x="234.60" y="268.20" font-family='"Liberation Serif", "Times New Roman", serif' font-weight="bold" font-size="16" text-anchor="middle" fill="#000" >40</text>
<line x1="261.95" y1="240.00" x2="261.95" y2="246.00" stroke="#000" stroke-width="2.6" />
<line x1="289.30" y1="240.00" x2="289.30" y2="249.50" stroke="#000" stroke-width="2.6" />
<text x="289.30" y="268.20" font-family='"Liberation Serif", "Times New Roman", serif' font-weight="bold" font-size="16" text-anchor="middle" fill="#000" >60</text>
<line x1="316.65" y1="240.00" x2="316.65" y2="246.00" stroke="#000" stroke-width="2.6" />
<line x1="344.00" y1="240.00" x2="344.00" y2="249.50" stroke="#000" stroke-width="2.6" />
<text x="344.00" y="268.20" font-family='"Liberation Serif", "Times New Roman", serif' font-weight="bold" font-size="16" text-anchor="middle" fill="#000" >80</text>
<line x1="371.35" y1="240.00" x2="371.35" y2="246.00" stroke="#000" stroke-width="2.6" />
<line x1="398.70" y1="240.00" x2="398.70" y2="249.50" stroke="#000" stroke-width="2.6" />
<text x="398.70" y="268.20" font-family='"Liberation Serif", "Times New Roman", serif' font-weight="bold" font-size="16" text-anchor="middle" fill="#000" >100</text>
<line x1="426.05" y1="240.00" x2="426.05" y2="246.00" stroke="#000" stroke-width="2.6" />
<text x="282.50" y="290.00" font-family='"Liberation Serif", "Times New Roman", serif' font-weight="bold" font-size="20" text-anchor="middle" fill="#000" >Time(s)</text>
<text transform="translate(74.40,230.20) rotate(-90)" font-family='"Liberation Serif", "Times New Roman", serif' font-weight="bold" font-size="19.6">Current density(μA/cm<tspan font-size="18" dx="0" dy="-10.5">2</tspan><tspan dx="0" dy="10.5">)</tspan></text>
<text x="150.20" y="29.30" font-family='"Liberation Serif", "Times New Roman", serif' font-weight="bold" font-size="22" text-anchor="start" fill="#000" class="nostroke"><tspan font-weight="normal">(</tspan>a<tspan font-weight="normal">)</tspan></text>
<rect x="306.5" y="11.5" width="84" height="31.5" fill="none" stroke="#888" stroke-width="1"/>
<line x1="307.00" y1="19.40" x2="337.50" y2="19.40" stroke="#000" stroke-width="2" />
<line x1="307.00" y1="35.40" x2="337.50" y2="35.40" stroke="#ff4a4a" stroke-width="2" />
<text x="338.00" y="24.20" font-family='"Liberation Serif", "Times New Roman", serif' font-weight="bold" font-size="12.8" text-anchor="start" fill="#000" >ZnO/ZnS</text>
<text x="338.00" y="39.50" font-family='"Liberation Serif", "Times New Roman", serif' font-weight="bold" font-size="12.8" text-anchor="start" fill="#000" >ZnO</text>
<line x1="112.30" y1="300.50" x2="112.30" y2="459.00" stroke="#9898f0" stroke-width="1.5" stroke-dasharray="1.6 2.5"/>
<line x1="153.20" y1="300.50" x2="153.20" y2="459.00" stroke="#9898f0" stroke-width="1.5" stroke-dasharray="1.6 2.5"/>
<path d="M51.0,446.4 L54.6,446.4 L58.2,446.4 L61.9,446.4 L65.5,446.5 L69.1,446.5 L72.8,446.5 L76.4,446.5 L80.0,446.5 L82.5,446.5 L85.0,446.5 L87.5,446.4 L90.0,446.4 L92.5,446.4 L95.0,446.3 L97.5,446.3 L100.0,446.3 L101.6,446.3 L103.2,446.3 L104.7,446.3 L106.3,446.3 L107.9,446.2 L109.4,446.2 L111.0,446.1 L112.6,446.0 L113.3,445.3 L113.9,443.4 L114.6,440.6 L115.3,437.2 L116.0,433.5 L116.7,429.7 L117.3,426.1 L118.0,423.0 L118.7,420.4 L119.3,417.7 L120.0,415.1 L120.6,412.6 L121.2,410.0 L121.9,407.5 L122.5,405.1 L123.2,402.8 L123.8,400.7 L124.4,398.7 L125.0,396.7 L125.6,394.8 L126.2,392.9 L126.8,391.1 L127.4,389.3 L128.0,387.5 L128.6,385.8 L129.2,384.2 L129.7,382.6 L130.3,381.1 L130.9,379.6 L131.4,378.2 L132.0,376.8 L132.6,375.5 L133.3,374.1 L133.9,372.7 L134.6,371.5 L135.3,370.3 L136.0,369.2 L136.7,368.1 L137.3,367.0 L138.0,366.0 L138.8,364.8 L139.6,363.6 L140.4,362.5 L141.2,361.4 L142.0,360.4 L142.8,359.4 L143.6,358.4 L144.4,357.5 L145.5,356.3 L146.6,355.3 L147.7,354.3 L148.8,353.4 L149.8,352.5 L150.9,351.6 L152.0,350.7 L153.1,349.8 L153.8,349.2 L154.4,348.7 L155.1,348.1 L155.8,347.6 L156.5,347.1 L157.2,346.5 L157.8,346.0 L158.5,345.5 L159.2,345.0 L159.9,344.4 L160.6,343.9 L161.2,343.4 L161.9,342.9 L162.6,342.4 L163.3,342.0 L164.0,341.6 L165.1,341.1 L166.2,340.8 L167.3,340.5 L168.3,340.3 L169.4,340.1 L170.5,339.9 L171.6,339.7 L172.7,339.5 L174.1,339.1 L175.4,338.8 L176.8,338.4 L178.1,338.0 L179.5,337.6 L180.9,337.3 L182.2,337.0 L183.6,336.7 L185.7,336.3 L187.7,336.0 L189.8,335.8 L191.8,335.5 L193.8,335.3 L195.9,335.2 L197.9,335.0 L200.0,334.8 L201.2,334.7 L202.5,334.6 L203.8,334.5 L205.0,334.4 L206.2,334.4 L207.5,334.3 L208.8,334.3 L210.0,334.2 L211.2,334.2 L212.5,334.1 L213.8,334.1 L215.0,334.0 L216.2,334.0 L217.5,334.0 L218.8,334.0 L220.0,334.0 L221.8,334.0 L223.5,334.1 L225.2,334.1 L227.0,334.2 L228.8,334.3 L230.5,334.3 L232.2,334.4 L234.0,334.4 L235.5,334.4 L237.0,334.3 L238.5,334.3 L240.0,334.2 L241.5,334.1 L243.0,334.1 L244.5,334.0 L246.0,334.0 L247.1,334.0 L248.2,334.1 L249.4,334.2 L250.5,334.4 L251.6,334.5 L252.8,334.7 L253.9,334.9 L255.0,335.0" fill="none" stroke="#000" stroke-width="2" stroke-linejoin="round"/>
<rect x="50.50" y="298.20" width="205.50" height="169.80" fill="none" stroke="#000" stroke-width="2.5"/>
<line x1="44.50" y1="446.77" x2="50.50" y2="446.77" stroke="#000" stroke-width="2" />
<line x1="250.00" y1="446.77" x2="256.00" y2="446.77" stroke="#000" stroke-width="2" />
<text x="41.60" y="450.57" font-family='"Liberation Serif", "Times New Roman", serif' font-weight="bold" font-size="11.5" text-anchor="end" fill="#000" >0</text>
<line x1="44.50" y1="404.32" x2="50.50" y2="404.32" stroke="#000" stroke-width="2" />
<line x1="250.00" y1="404.32" x2="256.00" y2="404.32" stroke="#000" stroke-width="2" />
<text x="41.60" y="408.12" font-family='"Liberation Serif", "Times New Roman", serif' font-weight="bold" font-size="11.5" text-anchor="end" fill="#000" >1</text>
<line x1="44.50" y1="361.88" x2="50.50" y2="361.88" stroke="#000" stroke-width="2" />
<line x1="250.00" y1="361.88" x2="256.00" y2="361.88" stroke="#000" stroke-width="2" />
<text x="41.60" y="365.68" font-family='"Liberation Serif", "Times New Roman", serif' font-weight="bold" font-size="11.5" text-anchor="end" fill="#000" >2</text>
<line x1="44.50" y1="319.42" x2="50.50" y2="319.42" stroke="#000" stroke-width="2" />
<line x1="250.00" y1="319.42" x2="256.00" y2="319.42" stroke="#000" stroke-width="2" />
<text x="41.60" y="323.22" font-family='"Liberation Serif", "Times New Roman", serif' font-weight="bold" font-size="11.5" text-anchor="end" fill="#000" >3</text>
<line x1="47.30" y1="468.00" x2="50.50" y2="468.00" stroke="#000" stroke-width="2" />
<line x1="252.80" y1="468.00" x2="256.00" y2="468.00" stroke="#000" stroke-width="2" />
<line x1="47.30" y1="425.55" x2="50.50" y2="425.55" stroke="#000" stroke-width="2" />
<line x1="252.80" y1="425.55" x2="256.00" y2="425.55" stroke="#000" stroke-width="2" />
<line x1="47.30" y1="383.10" x2="50.50" y2="383.10" stroke="#000" stroke-width="2" />
<line x1="252.80" y1="383.10" x2="256.00" y2="383.10" stroke="#000" stroke-width="2" />
<line x1="47.30" y1="340.65" x2="50.50" y2="340.65" stroke="#000" stroke-width="2" />
<line x1="252.80" y1="340.65" x2="256.00" y2="340.65" stroke="#000" stroke-width="2" />
<line x1="47.30" y1="298.20" x2="50.50" y2="298.20" stroke="#000" stroke-width="2" />
<line x1="252.80" y1="298.20" x2="256.00" y2="298.20" stroke="#000" stroke-width="2" />
<line x1="50.50" y1="468.00" x2="50.50" y2="474.00" stroke="#000" stroke-width="2" />
<line x1="50.50" y1="298.20" x2="50.50" y2="304.20" stroke="#000" stroke-width="2" />
<text x="50.50" y="486.70" font-family='"Liberation Serif", "Times New Roman", serif' font-weight="bold" font-size="11.5" text-anchor="middle" fill="#000" >64.92</text>
<line x1="91.60" y1="468.00" x2="91.60" y2="474.00" stroke="#000" stroke-width="2" />
<line x1="91.60" y1="298.20" x2="91.60" y2="304.20" stroke="#000" stroke-width="2" />
<text x="91.60" y="486.70" font-family='"Liberation Serif", "Times New Roman", serif' font-weight="bold" font-size="11.5" text-anchor="middle" fill="#000" >64.96</text>
<line x1="132.70" y1="468.00" x2="132.70" y2="474.00" stroke="#000" stroke-width="2" />
<line x1="132.70" y1="298.20" x2="132.70" y2="304.20" stroke="#000" stroke-width="2" />
<text x="132.70" y="486.70" font-family='"Liberation Serif", "Times New Roman", serif' font-weight="bold" font-size="11.5" text-anchor="middle" fill="#000" >65.00</text>
<line x1="173.80" y1="468.00" x2="173.80" y2="474.00" stroke="#000" stroke-width="2" />
<line x1="173.80" y1="298.20" x2="173.80" y2="304.20" stroke="#000" stroke-width="2" />
<text x="173.80" y="486.70" font-family='"Liberation Serif", "Times New Roman", serif' font-weight="bold" font-size="11.5" text-anchor="middle" fill="#000" >65.04</text>
<line x1="214.90" y1="468.00" x2="214.90" y2="474.00" stroke="#000" stroke-width="2" />
<line x1="214.90" y1="298.20" x2="214.90" y2="304.20" stroke="#000" stroke-width="2" />
<text x="214.90" y="486.70" font-family='"Liberation Serif", "Times New Roman", serif' font-weight="bold" font-size="11.5" text-anchor="middle" fill="#000" >65.08</text>
<line x1="256.00" y1="468.00" x2="256.00" y2="474.00" stroke="#000" stroke-width="2" />
<line x1="256.00" y1="298.20" x2="256.00" y2="304.20" stroke="#000" stroke-width="2" />
<text x="256.00" y="486.70" font-family='"Liberation Serif", "Times New Roman", serif' font-weight="bold" font-size="11.5" text-anchor="middle" fill="#000" >65.12</text>
<line x1="71.05" y1="468.00" x2="71.05" y2="471.20" stroke="#000" stroke-width="2" />
<line x1="71.05" y1="298.20" x2="71.05" y2="301.40" stroke="#000" stroke-width="2" />
<line x1="112.15" y1="468.00" x2="112.15" y2="471.20" stroke="#000" stroke-width="2" />
<line x1="112.15" y1="298.20" x2="112.15" y2="301.40" stroke="#000" stroke-width="2" />
<line x1="153.25" y1="468.00" x2="153.25" y2="471.20" stroke="#000" stroke-width="2" />
<line x1="153.25" y1="298.20" x2="153.25" y2="301.40" stroke="#000" stroke-width="2" />
<line x1="194.35" y1="468.00" x2="194.35" y2="471.20" stroke="#000" stroke-width="2" />
<line x1="194.35" y1="298.20" x2="194.35" y2="301.40" stroke="#000" stroke-width="2" />
<line x1="235.45" y1="468.00" x2="235.45" y2="471.20" stroke="#000" stroke-width="2" />
<line x1="235.45" y1="298.20" x2="235.45" y2="301.40" stroke="#000" stroke-width="2" />
<text x="154.00" y="509.30" font-family='"Liberation Serif", "Times New Roman", serif' font-weight="bold" font-size="14" text-anchor="middle" fill="#000" >Time(s)</text>
<text transform="translate(29.10,454.90) rotate(-90)" font-family='"Liberation Serif", "Times New Roman", serif' font-weight="bold" font-size="13.2">Current density(μA/cm<tspan font-size="12" dx="1.2" dy="-7.4">2</tspan><tspan dx="0.8" dy="7.4">)</tspan></text>
<text x="56.60" y="323.50" font-family='"Liberation Serif", "Times New Roman", serif' font-weight="bold" font-size="22" text-anchor="start" fill="#000" class="nostroke"><tspan font-weight="normal">(</tspan>b<tspan font-weight="normal">)</tspan></text>
<rect x="165.7" y="306.4" width="80.3" height="14.1" fill="none" stroke="#999" stroke-width="1"/>
<line x1="168.50" y1="313.00" x2="194.70" y2="313.00" stroke="#000" stroke-width="1.5" />
<text x="197.00" y="317.70" font-family='"Liberation Serif", "Times New Roman", serif' font-weight="bold" font-size="11.8" text-anchor="start" fill="#000" >ZnO/ZnS</text>
<line x1="112.80" y1="340.20" x2="120.00" y2="340.20" stroke="#777" stroke-width="1.0" />
<path d="M123.00,339.60 L123.00,340.80 L117.00,341.90 L117.00,338.50 Z" fill="#000"/>
<line x1="152.60" y1="340.20" x2="144.60" y2="340.20" stroke="#777" stroke-width="1.0" />
<path d="M141.60,339.60 L141.60,340.80 L147.60,341.90 L147.60,338.50 Z" fill="#000"/>
<text class="nostroke" x="127.30" y="344.20" font-family='"Liberation Serif", "Times New Roman", serif' font-style="italic" font-weight="bold" font-size="15.5">τ<tspan font-size="9.5" dx="0" dy="4.2" font-style="normal" font-weight="normal">r</tspan></text>
<line x1="364.80" y1="303.50" x2="364.80" y2="465.50" stroke="#9898f0" stroke-width="1.5" stroke-dasharray="1.6 2.5"/>
<line x1="406.90" y1="303.50" x2="406.90" y2="465.50" stroke="#9898f0" stroke-width="1.5" stroke-dasharray="1.6 2.5"/>
<path d="M327.5,360.9 L328.6,360.9 L329.6,360.8 L330.7,360.8 L331.8,360.7 L332.8,360.7 L333.9,360.7 L334.9,360.6 L336.0,360.6 L337.0,360.6 L338.0,360.5 L339.0,360.5 L340.0,360.5 L341.0,360.4 L342.0,360.4 L343.0,360.4 L344.0,360.4 L344.8,360.4 L345.5,360.5 L346.2,360.6 L347.0,360.7 L347.8,360.8 L348.5,360.9 L349.2,361.0 L350.0,361.1 L350.8,361.2 L351.6,361.3 L352.4,361.4 L353.2,361.5 L354.1,361.6 L354.9,361.7 L355.7,361.8 L356.5,361.8 L357.4,361.8 L358.4,361.7 L359.3,361.6 L360.2,361.5 L361.1,361.3 L362.0,361.2 L363.0,361.1 L363.9,361.1 L364.4,361.2 L364.9,361.3 L365.4,361.6 L365.9,362.0 L366.5,362.4 L367.0,362.9 L367.5,363.4 L368.0,363.9 L368.5,364.4 L369.0,365.0 L369.5,365.6 L370.1,366.3 L370.6,367.0 L371.1,367.8 L371.6,368.7 L372.1,369.6 L372.6,370.6 L373.1,371.8 L373.6,373.0 L374.1,374.3 L374.7,375.6 L375.2,376.9 L375.7,378.2 L376.2,379.5 L376.7,380.7 L377.2,381.9 L377.7,383.1 L378.2,384.3 L378.8,385.5 L379.3,386.7 L379.8,388.0 L380.3,389.3 L380.8,390.7 L381.3,392.1 L381.8,393.5 L382.4,395.0 L382.9,396.5 L383.4,397.9 L383.9,399.3 L384.4,400.7 L384.9,402.0 L385.4,403.3 L385.9,404.6 L386.4,405.9 L387.0,407.1 L387.5,408.3 L388.0,409.5 L388.5,410.6 L389.1,411.9 L389.7,413.2 L390.3,414.5 L390.9,415.8 L391.6,417.0 L392.2,418.1 L392.8,419.3 L393.4,420.4 L394.1,421.7 L394.8,422.9 L395.5,424.1 L396.2,425.3 L397.0,426.4 L397.7,427.5 L398.4,428.5 L399.1,429.4 L400.0,430.5 L401.0,431.4 L401.9,432.3 L402.8,433.1 L403.7,433.8 L404.6,434.5 L405.6,435.2 L406.5,435.9 L407.6,436.7 L408.8,437.6 L409.9,438.3 L411.0,439.1 L412.1,439.8 L413.2,440.5 L414.4,441.1 L415.5,441.7 L416.3,442.1 L417.1,442.4 L417.9,442.8 L418.8,443.1 L419.6,443.3 L420.4,443.6 L421.2,443.9 L422.0,444.1 L423.2,444.4 L424.4,444.8 L425.7,445.0 L426.9,445.3 L428.1,445.5 L429.4,445.8 L430.6,446.0 L431.8,446.3 L433.1,446.6 L434.3,446.9 L435.6,447.2 L436.8,447.4 L438.1,447.7 L439.3,448.0 L440.6,448.3 L441.8,448.5 L443.7,448.8 L445.6,449.2 L447.5,449.5 L449.4,449.8 L451.3,450.0 L453.2,450.3 L455.1,450.5 L457.0,450.7 L458.4,450.8 L459.8,450.9 L461.1,451.0 L462.5,451.1 L463.9,451.1 L465.2,451.2 L466.6,451.2 L468.0,451.3 L469.4,451.4 L470.8,451.5 L472.1,451.5 L473.5,451.6 L474.9,451.7 L476.2,451.7 L477.6,451.8 L479.0,451.8 L480.6,451.7 L482.2,451.6 L483.9,451.4 L485.5,451.2 L487.1,451.0 L488.8,450.8 L490.4,450.7 L492.0,450.6 L493.9,450.6 L495.8,450.6 L497.6,450.6 L499.5,450.7 L501.4,450.7 L503.2,450.7 L505.1,450.8 L507.0,450.8 L508.9,450.8 L510.9,450.9 L512.8,451.0 L514.8,451.0 L516.7,451.1 L518.6,451.2 L520.6,451.2 L522.5,451.2 L523.6,451.2 L524.6,451.2 L525.7,451.1 L526.8,451.1 L527.8,451.0 L528.9,450.9 L529.9,450.9 L531.0,450.8" fill="none" stroke="#000" stroke-width="2" stroke-linejoin="round"/>
<rect x="326.40" y="301.20" width="205.90" height="168.60" fill="none" stroke="#000" stroke-width="2.5"/>
<line x1="320.40" y1="448.73" x2="326.40" y2="448.73" stroke="#000" stroke-width="2" />
<line x1="526.30" y1="448.73" x2="532.30" y2="448.73" stroke="#000" stroke-width="2" />
<text class="nostroke" x="317.20" y="452.53" font-family='"Liberation Sans", Arial, sans-serif' font-weight="normal" font-size="11" text-anchor="end" fill="#000" >0</text>
<line x1="320.40" y1="406.57" x2="326.40" y2="406.57" stroke="#000" stroke-width="2" />
<line x1="526.30" y1="406.57" x2="532.30" y2="406.57" stroke="#000" stroke-width="2" />
<text class="nostroke" x="317.20" y="410.38" font-family='"Liberation Sans", Arial, sans-serif' font-weight="normal" font-size="11" text-anchor="end" fill="#000" >1</text>
<line x1="320.40" y1="364.43" x2="326.40" y2="364.43" stroke="#000" stroke-width="2" />
<line x1="526.30" y1="364.43" x2="532.30" y2="364.43" stroke="#000" stroke-width="2" />
<text class="nostroke" x="317.20" y="368.23" font-family='"Liberation Sans", Arial, sans-serif' font-weight="normal" font-size="11" text-anchor="end" fill="#000" >2</text>
<line x1="320.40" y1="322.27" x2="326.40" y2="322.27" stroke="#000" stroke-width="2" />
<line x1="526.30" y1="322.27" x2="532.30" y2="322.27" stroke="#000" stroke-width="2" />
<text class="nostroke" x="317.20" y="326.07" font-family='"Liberation Sans", Arial, sans-serif' font-weight="normal" font-size="11" text-anchor="end" fill="#000" >3</text>
<line x1="323.20" y1="469.80" x2="326.40" y2="469.80" stroke="#000" stroke-width="2" />
<line x1="529.10" y1="469.80" x2="532.30" y2="469.80" stroke="#000" stroke-width="2" />
<line x1="323.20" y1="427.65" x2="326.40" y2="427.65" stroke="#000" stroke-width="2" />
<line x1="529.10" y1="427.65" x2="532.30" y2="427.65" stroke="#000" stroke-width="2" />
<line x1="323.20" y1="385.50" x2="326.40" y2="385.50" stroke="#000" stroke-width="2" />
<line x1="529.10" y1="385.50" x2="532.30" y2="385.50" stroke="#000" stroke-width="2" />
<line x1="323.20" y1="343.35" x2="326.40" y2="343.35" stroke="#000" stroke-width="2" />
<line x1="529.10" y1="343.35" x2="532.30" y2="343.35" stroke="#000" stroke-width="2" />
<line x1="323.20" y1="301.20" x2="326.40" y2="301.20" stroke="#000" stroke-width="2" />
<line x1="529.10" y1="301.20" x2="532.30" y2="301.20" stroke="#000" stroke-width="2" />
<line x1="326.40" y1="469.80" x2="326.40" y2="475.80" stroke="#000" stroke-width="2" />
<line x1="326.40" y1="301.20" x2="326.40" y2="307.20" stroke="#000" stroke-width="2" />
<text x="326.40" y="488.80" font-family='"Liberation Sans", Arial, sans-serif' font-weight="bold" font-size="11.3" text-anchor="middle" fill="#000" >75.08</text>
<line x1="367.58" y1="469.80" x2="367.58" y2="475.80" stroke="#000" stroke-width="2" />
<line x1="367.58" y1="301.20" x2="367.58" y2="307.20" stroke="#000" stroke-width="2" />
<text x="367.58" y="488.80" font-family='"Liberation Sans", Arial, sans-serif' font-weight="bold" font-size="11.3" text-anchor="middle" fill="#000" >75.12</text>
<line x1="408.76" y1="469.80" x2="408.76" y2="475.80" stroke="#000" stroke-width="2" />
<line x1="408.76" y1="301.20" x2="408.76" y2="307.20" stroke="#000" stroke-width="2" />
<text x="408.76" y="488.80" font-family='"Liberation Sans", Arial, sans-serif' font-weight="bold" font-size="11.3" text-anchor="middle" fill="#000" >75.16</text>
<line x1="449.94" y1="469.80" x2="449.94" y2="475.80" stroke="#000" stroke-width="2" />
<line x1="449.94" y1="301.20" x2="449.94" y2="307.20" stroke="#000" stroke-width="2" />
<text x="449.94" y="488.80" font-family='"Liberation Sans", Arial, sans-serif' font-weight="bold" font-size="11.3" text-anchor="middle" fill="#000" >75.20</text>
<line x1="491.12" y1="469.80" x2="491.12" y2="475.80" stroke="#000" stroke-width="2" />
<line x1="491.12" y1="301.20" x2="491.12" y2="307.20" stroke="#000" stroke-width="2" />
<text x="491.12" y="488.80" font-family='"Liberation Sans", Arial, sans-serif' font-weight="bold" font-size="11.3" text-anchor="middle" fill="#000" >75.24</text>
<line x1="532.30" y1="469.80" x2="532.30" y2="475.80" stroke="#000" stroke-width="2" />
<line x1="532.30" y1="301.20" x2="532.30" y2="307.20" stroke="#000" stroke-width="2" />
<text x="532.30" y="488.80" font-family='"Liberation Sans", Arial, sans-serif' font-weight="bold" font-size="11.3" text-anchor="middle" fill="#000" >75.28</text>
<line x1="346.99" y1="469.80" x2="346.99" y2="473.00" stroke="#000" stroke-width="2" />
<line x1="346.99" y1="301.20" x2="346.99" y2="304.40" stroke="#000" stroke-width="2" />
<line x1="388.17" y1="469.80" x2="388.17" y2="473.00" stroke="#000" stroke-width="2" />
<line x1="388.17" y1="301.20" x2="388.17" y2="304.40" stroke="#000" stroke-width="2" />
<line x1="429.35" y1="469.80" x2="429.35" y2="473.00" stroke="#000" stroke-width="2" />
<line x1="429.35" y1="301.20" x2="429.35" y2="304.40" stroke="#000" stroke-width="2" />
<line x1="470.53" y1="469.80" x2="470.53" y2="473.00" stroke="#000" stroke-width="2" />
<line x1="470.53" y1="301.20" x2="470.53" y2="304.40" stroke="#000" stroke-width="2" />
<line x1="511.71" y1="469.80" x2="511.71" y2="473.00" stroke="#000" stroke-width="2" />
<line x1="511.71" y1="301.20" x2="511.71" y2="304.40" stroke="#000" stroke-width="2" />
<text x="419.80" y="507.30" font-family='"Liberation Serif", "Times New Roman", serif' font-weight="bold" font-size="14" text-anchor="middle" fill="#000" >Time(s)</text>
<text transform="translate(303.80,469.00) rotate(-90)" font-family='"Liberation Serif", "Times New Roman", serif' font-weight="bold" font-size="13.2">Current density(μA/cm<tspan font-size="12" dx="1.2" dy="-7.4">2</tspan><tspan dx="0.8" dy="7.4">)</tspan></text>
<text x="332.20" y="323.60" font-family='"Liberation Serif", "Times New Roman", serif' font-weight="bold" font-size="22" text-anchor="start" fill="#000" class="nostroke"><tspan font-weight="normal">(</tspan>c<tspan font-weight="normal">)</tspan></text>
<rect x="440.5" y="308.3" width="79.5" height="14" fill="none" stroke="#999" stroke-width="1"/>
<line x1="442.30" y1="315.70" x2="469.00" y2="315.70" stroke="#000" stroke-width="1.5" />
<text x="471.00" y="320.00" font-family='"Liberation Serif", "Times New Roman", serif' font-weight="bold" font-size="11.8" text-anchor="start" fill="#000" >ZnO/ZnS</text>
<line x1="365.50" y1="345.20" x2="374.30" y2="345.20" stroke="#777" stroke-width="1.0" />
<path d="M377.30,344.60 L377.30,345.80 L371.30,346.90 L371.30,343.50 Z" fill="#000"/>
<line x1="406.30" y1="345.20" x2="395.70" y2="345.20" stroke="#777" stroke-width="1.0" />
<path d="M392.70,344.60 L392.70,345.80 L398.70,346.90 L398.70,343.50 Z" fill="#000"/>
<text class="nostroke" x="379.60" y="348.80" font-family='"Liberation Serif", "Times New Roman", serif' font-style="italic" font-weight="bold" font-size="15.5">τ<tspan font-size="11" dx="0" dy="3.6" font-style="normal" font-weight="normal">d</tspan></text>
<line x1="100.80" y1="528.50" x2="100.80" y2="689.00" stroke="#9898f0" stroke-width="1.5" stroke-dasharray="1.6 2.5"/>
<line x1="149.30" y1="525.00" x2="149.30" y2="690.50" stroke="#9898f0" stroke-width="1.5" stroke-dasharray="1.6 2.5"/>
<path d="M51.0,647.0 L52.4,647.0 L53.8,646.9 L55.1,646.9 L56.5,646.8 L57.9,646.8 L59.2,646.7 L60.6,646.7 L62.0,646.6 L63.9,646.5 L65.8,646.4 L67.6,646.3 L69.5,646.2 L71.4,646.1 L73.2,646.0 L75.1,645.9 L77.0,645.8 L78.6,645.7 L80.2,645.6 L81.9,645.5 L83.5,645.4 L85.1,645.2 L86.8,645.1 L88.4,645.0 L90.0,644.9 L90.6,644.9 L91.2,644.8 L91.9,644.8 L92.5,644.8 L93.1,644.7 L93.8,644.7 L94.4,644.7 L95.0,644.6 L95.7,644.5 L96.4,644.5 L97.1,644.4 L97.8,644.3 L98.6,644.2 L99.3,644.1 L100.0,643.9 L100.7,643.7 L101.4,643.4 L102.2,643.1 L102.9,642.8 L103.6,642.4 L104.3,641.9 L105.0,641.5 L105.8,641.0 L106.5,640.5 L107.3,639.9 L108.1,639.3 L108.9,638.6 L109.8,637.9 L110.6,637.1 L111.4,636.4 L112.2,635.6 L113.0,634.7 L113.8,633.8 L114.6,632.9 L115.4,632.0 L116.2,631.0 L117.1,630.0 L117.9,628.9 L118.7,627.8 L119.5,626.6 L120.3,625.3 L121.2,624.0 L122.0,622.6 L122.8,621.2 L123.6,619.8 L124.4,618.2 L125.3,616.7 L126.1,615.1 L126.7,613.9 L127.3,612.6 L127.9,611.3 L128.6,610.0 L129.2,608.6 L129.8,607.3 L130.4,605.9 L131.0,604.5 L131.6,603.1 L132.2,601.7 L132.8,600.2 L133.4,598.8 L134.1,597.3 L134.7,595.9 L135.3,594.4 L135.9,593.0 L136.5,591.6 L137.1,590.1 L137.7,588.7 L138.4,587.3 L139.0,585.9 L139.6,584.5 L140.2,583.0 L140.8,581.6 L141.4,580.2 L142.0,578.7 L142.6,577.3 L143.2,575.9 L143.9,574.4 L144.5,573.0 L145.1,571.5 L145.7,570.1 L146.2,568.9 L146.7,567.6 L147.2,566.3 L147.8,565.0 L148.3,563.7 L148.8,562.5 L149.3,561.4 L149.8,560.3 L150.5,558.9 L151.2,557.7 L152.0,556.5 L152.7,555.4 L153.4,554.3 L154.2,553.3 L154.9,552.3 L155.6,551.3 L156.2,550.6 L156.7,549.9 L157.2,549.2 L157.8,548.6 L158.3,548.0 L158.9,547.4 L159.4,546.8 L160.0,546.2 L160.4,545.7 L160.9,545.2 L161.3,544.7 L161.8,544.3 L162.2,543.8 L162.6,543.3 L163.1,542.9 L163.5,542.5 L164.0,542.1 L164.4,541.7 L164.9,541.3 L165.4,541.0 L165.9,540.7 L166.4,540.4 L166.8,540.1 L167.3,539.8 L167.8,539.6 L168.2,539.3 L168.7,539.1 L169.2,538.9 L169.6,538.8 L170.1,538.6 L170.5,538.4 L171.0,538.3 L171.4,538.2 L171.9,538.1 L172.3,537.9 L172.8,537.8 L173.2,537.8 L173.6,537.7 L174.1,537.6 L174.5,537.6 L175.2,537.6 L175.9,537.5 L176.6,537.5 L177.2,537.5 L177.9,537.5 L178.6,537.5 L179.3,537.5 L180.0,537.5 L180.9,537.5 L181.8,537.6 L182.7,537.6 L183.7,537.7 L184.6,537.8 L185.5,537.9 L186.4,537.9 L187.3,538.0 L188.4,538.1 L189.5,538.1 L190.6,538.2 L191.7,538.2 L192.7,538.3 L193.8,538.3 L194.9,538.3 L196.0,538.4 L197.2,538.5 L198.4,538.5 L199.6,538.6 L200.8,538.6 L201.9,538.7 L203.1,538.8 L204.3,538.8 L205.5,538.9 L206.6,539.0 L207.6,539.0 L208.7,539.1 L209.8,539.1 L210.8,539.1 L211.9,539.2 L212.9,539.2 L214.0,539.3 L215.2,539.4 L216.4,539.4 L217.6,539.5 L218.8,539.5 L220.0,539.6 L221.2,539.7 L222.4,539.7 L223.6,539.8 L224.7,539.9 L225.7,540.0 L226.8,540.0 L227.8,540.1 L228.8,540.2 L229.9,540.3 L230.9,540.4 L232.0,540.5 L233.2,540.6 L234.4,540.7 L235.7,540.8 L236.9,540.9 L238.1,541.0 L239.4,541.1 L240.6,541.2 L241.8,541.3 L242.7,541.4 L243.6,541.5 L244.5,541.6 L245.4,541.7 L246.3,541.8 L247.2,541.9 L248.1,542.0 L249.0,542.1 L249.8,542.2 L250.6,542.3 L251.4,542.4 L252.2,542.5 L253.1,542.6 L253.9,542.7 L254.7,542.8 L255.5,542.9" fill="none" stroke="#ff4048" stroke-width="2" stroke-linejoin="round"/>
<rect x="50.00" y="522.60" width="205.80" height="169.10" fill="none" stroke="#000" stroke-width="2.5"/>
<line x1="44.00" y1="647.20" x2="50.00" y2="647.20" stroke="#000" stroke-width="2" />
<line x1="249.80" y1="647.20" x2="255.80" y2="647.20" stroke="#000" stroke-width="2" />
<text class="nostroke" x="40.00" y="651.00" font-family='"Liberation Sans", Arial, sans-serif' font-weight="normal" font-size="11" text-anchor="end" fill="#000" >0.0</text>
<line x1="44.00" y1="584.90" x2="50.00" y2="584.90" stroke="#000" stroke-width="2" />
<line x1="249.80" y1="584.90" x2="255.80" y2="584.90" stroke="#000" stroke-width="2" />
<text class="nostroke" x="40.00" y="588.70" font-family='"Liberation Sans", Arial, sans-serif' font-weight="normal" font-size="11" text-anchor="end" fill="#000" >0.7</text>
<line x1="44.00" y1="522.60" x2="50.00" y2="522.60" stroke="#000" stroke-width="2" />
<line x1="249.80" y1="522.60" x2="255.80" y2="522.60" stroke="#000" stroke-width="2" />
<text class="nostroke" x="40.00" y="526.40" font-family='"Liberation Sans", Arial, sans-serif' font-weight="normal" font-size="11" text-anchor="end" fill="#000" >1.4</text>
<line x1="46.80" y1="678.35" x2="50.00" y2="678.35" stroke="#000" stroke-width="2" />
<line x1="252.60" y1="678.35" x2="255.80" y2="678.35" stroke="#000" stroke-width="2" />
<line x1="46.80" y1="616.05" x2="50.00" y2="616.05" stroke="#000" stroke-width="2" />
<line x1="252.60" y1="616.05" x2="255.80" y2="616.05" stroke="#000" stroke-width="2" />
<line x1="46.80" y1="553.75" x2="50.00" y2="553.75" stroke="#000" stroke-width="2" />
<line x1="252.60" y1="553.75" x2="255.80" y2="553.75" stroke="#000" stroke-width="2" />
<line x1="50.00" y1="691.70" x2="50.00" y2="697.70" stroke="#000" stroke-width="2" />
<line x1="50.00" y1="522.60" x2="50.00" y2="528.60" stroke="#000" stroke-width="2" />
<text x="50.00" y="710.20" font-family='"Liberation Sans", Arial, sans-serif' font-weight="bold" font-size="11.3" text-anchor="middle" fill="#000" >65.12</text>
<line x1="84.30" y1="691.70" x2="84.30" y2="697.70" stroke="#000" stroke-width="2" />
<line x1="84.30" y1="522.60" x2="84.30" y2="528.60" stroke="#000" stroke-width="2" />
<text x="84.30" y="710.20" font-family='"Liberation Sans", Arial, sans-serif' font-weight="bold" font-size="11.3" text-anchor="middle" fill="#000" >65.13</text>
<line x1="118.60" y1="691.70" x2="118.60" y2="697.70" stroke="#000" stroke-width="2" />
<line x1="118.60" y1="522.60" x2="118.60" y2="528.60" stroke="#000" stroke-width="2" />
<text x="118.60" y="710.20" font-family='"Liberation Sans", Arial, sans-serif' font-weight="bold" font-size="11.3" text-anchor="middle" fill="#000" >65.14</text>
<line x1="152.90" y1="691.70" x2="152.90" y2="697.70" stroke="#000" stroke-width="2" />
<line x1="152.90" y1="522.60" x2="152.90" y2="528.60" stroke="#000" stroke-width="2" />
<text x="152.90" y="710.20" font-family='"Liberation Sans", Arial, sans-serif' font-weight="bold" font-size="11.3" text-anchor="middle" fill="#000" >65.15</text>
<line x1="187.20" y1="691.70" x2="187.20" y2="697.70" stroke="#000" stroke-width="2" />
<line x1="187.20" y1="522.60" x2="187.20" y2="528.60" stroke="#000" stroke-width="2" />
<text x="187.20" y="710.20" font-family='"Liberation Sans", Arial, sans-serif' font-weight="bold" font-size="11.3" text-anchor="middle" fill="#000" >65.16</text>
<line x1="221.50" y1="691.70" x2="221.50" y2="697.70" stroke="#000" stroke-width="2" />
<line x1="221.50" y1="522.60" x2="221.50" y2="528.60" stroke="#000" stroke-width="2" />
<text x="221.50" y="710.20" font-family='"Liberation Sans", Arial, sans-serif' font-weight="bold" font-size="11.3" text-anchor="middle" fill="#000" >65.17</text>
<line x1="255.80" y1="691.70" x2="255.80" y2="697.70" stroke="#000" stroke-width="2" />
<line x1="255.80" y1="522.60" x2="255.80" y2="528.60" stroke="#000" stroke-width="2" />
<text x="255.80" y="710.20" font-family='"Liberation Sans", Arial, sans-serif' font-weight="bold" font-size="11.3" text-anchor="middle" fill="#000" >65.18</text>
<line x1="67.15" y1="691.70" x2="67.15" y2="694.90" stroke="#000" stroke-width="2" />
<line x1="67.15" y1="522.60" x2="67.15" y2="525.80" stroke="#000" stroke-width="2" />
<line x1="101.45" y1="691.70" x2="101.45" y2="694.90" stroke="#000" stroke-width="2" />
<line x1="101.45" y1="522.60" x2="101.45" y2="525.80" stroke="#000" stroke-width="2" />
<line x1="135.75" y1="691.70" x2="135.75" y2="694.90" stroke="#000" stroke-width="2" />
<line x1="135.75" y1="522.60" x2="135.75" y2="525.80" stroke="#000" stroke-width="2" />
<line x1="170.05" y1="691.70" x2="170.05" y2="694.90" stroke="#000" stroke-width="2" />
<line x1="170.05" y1="522.60" x2="170.05" y2="525.80" stroke="#000" stroke-width="2" />
<line x1="204.35" y1="691.70" x2="204.35" y2="694.90" stroke="#000" stroke-width="2" />
<line x1="204.35" y1="522.60" x2="204.35" y2="525.80" stroke="#000" stroke-width="2" />
<line x1="238.65" y1="691.70" x2="238.65" y2="694.90" stroke="#000" stroke-width="2" />
<line x1="238.65" y1="522.60" x2="238.65" y2="525.80" stroke="#000" stroke-width="2" />
<text x="162.20" y="734.20" font-family='"Liberation Serif", "Times New Roman", serif' font-weight="bold" font-size="14" text-anchor="middle" fill="#000" >Time(s)</text>
<text transform="translate(21.20,683.80) rotate(-90)" font-family='"Liberation Serif", "Times New Roman", serif' font-weight="bold" font-size="13.2">Current density(μA/cm<tspan font-size="12" dx="1.0" dy="-7.4">2</tspan><tspan dx="0.8" dy="7.4">)</tspan></text>
<text x="57.00" y="549.00" font-family='"Liberation Serif", "Times New Roman", serif' font-weight="bold" font-size="22" text-anchor="start" fill="#000" class="nostroke"><tspan font-weight="normal">(</tspan>d<tspan font-weight="normal">)</tspan></text>
<rect x="181" y="567" width="65.4" height="18.6" fill="none" stroke="#999" stroke-width="1"/>
<line x1="183.60" y1="576.60" x2="216.00" y2="576.60" stroke="#ff4048" stroke-width="1.6" />
<text class="nostroke" x="219.00" y="581.40" font-family='"Liberation Serif", "Times New Roman", serif' font-weight="normal" font-size="15" text-anchor="start" fill="#000" >ZnO</text>
<line x1="101.50" y1="544.80" x2="110.50" y2="544.80" stroke="#777" stroke-width="1.0" />
<path d="M113.50,544.20 L113.50,545.40 L107.50,546.50 L107.50,543.10 Z" fill="#000"/>
<line x1="148.50" y1="544.80" x2="137.80" y2="544.80" stroke="#777" stroke-width="1.0" />
<path d="M134.80,544.20 L134.80,545.40 L140.80,546.50 L140.80,543.10 Z" fill="#000"/>
<text class="nostroke" x="119.80" y="546.20" font-family='"Liberation Serif", "Times New Roman", serif' font-style="italic" font-weight="bold" font-size="15">τ<tspan font-size="9" dx="0.6" dy="4.4" font-style="normal" font-weight="normal">r</tspan></text>
<line x1="368.30" y1="525.50" x2="368.30" y2="688.00" stroke="#9898f0" stroke-width="1.5" stroke-dasharray="1.6 2.5"/>
<line x1="423.60" y1="525.50" x2="423.60" y2="688.00" stroke="#9898f0" stroke-width="1.5" stroke-dasharray="1.6 2.5"/>
<path d="M326.0,588.6 L327.1,588.5 L328.2,588.3 L329.4,588.2 L330.5,588.0 L331.6,587.9 L332.8,587.7 L333.9,587.6 L335.0,587.5 L336.1,587.4 L337.2,587.3 L338.4,587.1 L339.5,587.0 L340.6,586.9 L341.8,586.9 L342.9,586.8 L344.0,586.8 L345.2,586.8 L346.5,586.8 L347.8,586.8 L349.0,586.8 L350.2,586.8 L351.5,586.8 L352.8,586.8 L354.0,586.8 L354.8,586.8 L355.5,586.8 L356.2,586.9 L357.0,586.9 L357.8,587.0 L358.5,587.1 L359.2,587.1 L360.0,587.2 L361.0,587.3 L362.0,587.3 L363.0,587.4 L364.0,587.4 L365.0,587.5 L366.0,587.6 L367.0,587.7 L368.0,587.8 L369.0,587.9 L370.0,588.1 L371.0,588.3 L372.0,588.5 L373.0,588.7 L374.0,588.9 L375.0,589.2 L376.0,589.5 L377.0,589.8 L378.0,590.2 L379.0,590.6 L380.0,591.0 L381.0,591.4 L382.0,591.9 L383.0,592.4 L384.0,593.0 L385.0,593.6 L386.0,594.3 L387.0,595.0 L388.0,595.7 L389.0,596.5 L390.0,597.3 L391.0,598.1 L392.0,599.0 L393.0,599.9 L394.0,600.8 L395.0,601.7 L396.0,602.7 L397.0,603.7 L398.0,604.7 L399.0,605.8 L400.0,607.0 L401.0,608.2 L402.0,609.5 L403.0,610.9 L404.0,612.3 L405.0,613.7 L406.0,615.2 L407.0,616.6 L408.0,618.0 L409.0,619.4 L410.0,620.8 L411.0,622.2 L412.0,623.6 L413.0,624.9 L414.0,626.3 L415.0,627.7 L416.0,629.0 L417.0,630.3 L418.0,631.6 L419.0,632.9 L420.0,634.2 L421.0,635.4 L422.0,636.7 L423.0,637.9 L424.0,639.0 L425.0,640.1 L426.0,641.2 L427.0,642.3 L428.0,643.3 L429.0,644.3 L430.0,645.3 L431.0,646.2 L432.0,647.0 L433.0,647.8 L434.0,648.4 L435.0,649.1 L436.0,649.6 L437.0,650.2 L438.0,650.7 L439.0,651.1 L440.0,651.6 L441.0,652.0 L442.0,652.4 L443.0,652.8 L444.0,653.1 L445.0,653.4 L446.0,653.7 L447.0,654.0 L448.0,654.2 L449.0,654.4 L450.0,654.6 L451.0,654.8 L452.0,655.0 L453.0,655.1 L454.0,655.3 L455.0,655.3 L456.0,655.4 L457.8,655.5 L459.5,655.5 L461.2,655.6 L463.0,655.6 L464.8,655.6 L466.5,655.6 L468.2,655.6 L470.0,655.6 L471.2,655.6 L472.5,655.6 L473.8,655.6 L475.0,655.6 L476.2,655.5 L477.5,655.5 L478.8,655.5 L480.0,655.5 L482.0,655.5 L484.0,655.5 L486.0,655.4 L488.0,655.4 L490.0,655.4 L492.0,655.3 L494.0,655.3 L496.0,655.3 L498.0,655.3 L500.0,655.3 L502.0,655.3 L504.0,655.2 L506.0,655.2 L508.0,655.2 L510.0,655.2 L512.0,655.2 L514.2,655.2 L516.5,655.2 L518.8,655.1 L521.0,655.1 L523.2,655.1 L525.5,655.1 L527.8,655.0 L530.0,655.0" fill="none" stroke="#ff4048" stroke-width="2" stroke-linejoin="round"/>
<rect x="325.20" y="523.00" width="205.50" height="168.70" fill="none" stroke="#000" stroke-width="2.5"/>
<line x1="319.20" y1="649.53" x2="325.20" y2="649.53" stroke="#000" stroke-width="2" />
<line x1="524.70" y1="649.53" x2="530.70" y2="649.53" stroke="#000" stroke-width="2" />
<text x="314.80" y="653.33" font-family='"Liberation Serif", "Times New Roman", serif' font-weight="bold" font-size="11.5" text-anchor="end" fill="#000" >0.0</text>
<line x1="319.20" y1="590.48" x2="325.20" y2="590.48" stroke="#000" stroke-width="2" />
<line x1="524.70" y1="590.48" x2="530.70" y2="590.48" stroke="#000" stroke-width="2" />
<text x="314.80" y="594.28" font-family='"Liberation Serif", "Times New Roman", serif' font-weight="bold" font-size="11.5" text-anchor="end" fill="#000" >0.7</text>
<line x1="319.20" y1="531.43" x2="325.20" y2="531.43" stroke="#000" stroke-width="2" />
<line x1="524.70" y1="531.43" x2="530.70" y2="531.43" stroke="#000" stroke-width="2" />
<text x="314.80" y="535.23" font-family='"Liberation Serif", "Times New Roman", serif' font-weight="bold" font-size="11.5" text-anchor="end" fill="#000" >1.4</text>
<line x1="322.00" y1="679.05" x2="325.20" y2="679.05" stroke="#000" stroke-width="2" />
<line x1="527.50" y1="679.05" x2="530.70" y2="679.05" stroke="#000" stroke-width="2" />
<line x1="322.00" y1="620.00" x2="325.20" y2="620.00" stroke="#000" stroke-width="2" />
<line x1="527.50" y1="620.00" x2="530.70" y2="620.00" stroke="#000" stroke-width="2" />
<line x1="322.00" y1="560.96" x2="325.20" y2="560.96" stroke="#000" stroke-width="2" />
<line x1="527.50" y1="560.96" x2="530.70" y2="560.96" stroke="#000" stroke-width="2" />
<line x1="325.20" y1="691.70" x2="325.20" y2="697.70" stroke="#000" stroke-width="2" />
<line x1="325.20" y1="523.00" x2="325.20" y2="529.00" stroke="#000" stroke-width="2" />
<text x="325.20" y="711.00" font-family='"Liberation Serif", "Times New Roman", serif' font-weight="bold" font-size="11.5" text-anchor="middle" fill="#000" >74.76</text>
<line x1="359.45" y1="691.70" x2="359.45" y2="697.70" stroke="#000" stroke-width="2" />
<line x1="359.45" y1="523.00" x2="359.45" y2="529.00" stroke="#000" stroke-width="2" />
<text x="359.45" y="711.00" font-family='"Liberation Serif", "Times New Roman", serif' font-weight="bold" font-size="11.5" text-anchor="middle" fill="#000" >74.77</text>
<line x1="393.70" y1="691.70" x2="393.70" y2="697.70" stroke="#000" stroke-width="2" />
<line x1="393.70" y1="523.00" x2="393.70" y2="529.00" stroke="#000" stroke-width="2" />
<text x="393.70" y="711.00" font-family='"Liberation Serif", "Times New Roman", serif' font-weight="bold" font-size="11.5" text-anchor="middle" fill="#000" >74.78</text>
<line x1="427.95" y1="691.70" x2="427.95" y2="697.70" stroke="#000" stroke-width="2" />
<line x1="427.95" y1="523.00" x2="427.95" y2="529.00" stroke="#000" stroke-width="2" />
<text x="427.95" y="711.00" font-family='"Liberation Serif", "Times New Roman", serif' font-weight="bold" font-size="11.5" text-anchor="middle" fill="#000" >74.79</text>
<line x1="462.20" y1="691.70" x2="462.20" y2="697.70" stroke="#000" stroke-width="2" />
<line x1="462.20" y1="523.00" x2="462.20" y2="529.00" stroke="#000" stroke-width="2" />
<text x="462.20" y="711.00" font-family='"Liberation Serif", "Times New Roman", serif' font-weight="bold" font-size="11.5" text-anchor="middle" fill="#000" >74.80</text>
<line x1="496.45" y1="691.70" x2="496.45" y2="697.70" stroke="#000" stroke-width="2" />
<line x1="496.45" y1="523.00" x2="496.45" y2="529.00" stroke="#000" stroke-width="2" />
<text x="496.45" y="711.00" font-family='"Liberation Serif", "Times New Roman", serif' font-weight="bold" font-size="11.5" text-anchor="middle" fill="#000" >74.81</text>
<line x1="530.70" y1="691.70" x2="530.70" y2="697.70" stroke="#000" stroke-width="2" />
<line x1="530.70" y1="523.00" x2="530.70" y2="529.00" stroke="#000" stroke-width="2" />
<text x="530.70" y="711.00" font-family='"Liberation Serif", "Times New Roman", serif' font-weight="bold" font-size="11.5" text-anchor="middle" fill="#000" >74.82</text>
<line x1="342.32" y1="691.70" x2="342.32" y2="694.90" stroke="#000" stroke-width="2" />
<line x1="342.32" y1="523.00" x2="342.32" y2="526.20" stroke="#000" stroke-width="2" />
<line x1="376.58" y1="691.70" x2="376.58" y2="694.90" stroke="#000" stroke-width="2" />
<line x1="376.58" y1="523.00" x2="376.58" y2="526.20" stroke="#000" stroke-width="2" />
<line x1="410.82" y1="691.70" x2="410.82" y2="694.90" stroke="#000" stroke-width="2" />
<line x1="410.82" y1="523.00" x2="410.82" y2="526.20" stroke="#000" stroke-width="2" />
<line x1="445.08" y1="691.70" x2="445.08" y2="694.90" stroke="#000" stroke-width="2" />
<line x1="445.08" y1="523.00" x2="445.08" y2="526.20" stroke="#000" stroke-width="2" />
<line x1="479.33" y1="691.70" x2="479.33" y2="694.90" stroke="#000" stroke-width="2" />
<line x1="479.33" y1="523.00" x2="479.33" y2="526.20" stroke="#000" stroke-width="2" />
<line x1="513.58" y1="691.70" x2="513.58" y2="694.90" stroke="#000" stroke-width="2" />
<line x1="513.58" y1="523.00" x2="513.58" y2="526.20" stroke="#000" stroke-width="2" />
<text x="425.30" y="730.30" font-family='"Liberation Serif", "Times New Roman", serif' font-weight="bold" font-size="14.3" text-anchor="middle" fill="#000" >Time(s)</text>
<text transform="translate(294.30,680.00) rotate(-90)" font-family='"Liberation Serif", "Times New Roman", serif' font-weight="bold" font-size="13.2">Current density(μA/cm<tspan font-size="12" dx="1.2" dy="-7.4">2</tspan><tspan dx="1.0" dy="7.4">)</tspan></text>
<text x="332.20" y="548.50" font-family='"Liberation Serif", "Times New Roman", serif' font-weight="bold" font-size="22" text-anchor="start" fill="#000" class="nostroke"><tspan font-weight="normal">(</tspan>e<tspan font-weight="normal">)</tspan></text>
<rect x="457.3" y="569.5" width="66.5" height="19.2" fill="none" stroke="#999" stroke-width="1"/>
<line x1="460.00" y1="579.40" x2="492.80" y2="579.40" stroke="#ff4048" stroke-width="1.6" />
<text class="nostroke" x="495.50" y="584.80" font-family='"Liberation Serif", "Times New Roman", serif' font-weight="normal" font-size="15" text-anchor="start" fill="#000" >ZnO</text>
<line x1="369.50" y1="545.70" x2="379.20" y2="545.70" stroke="#777" stroke-width="1.0" />
<path d="M382.20,545.10 L382.20,546.30 L376.20,547.40 L376.20,544.00 Z" fill="#000"/>
<line x1="422.80" y1="545.70" x2="412.50" y2="545.70" stroke="#777" stroke-width="1.0" />
<path d="M409.50,545.10 L409.50,546.30 L415.50,547.40 L415.50,544.00 Z" fill="#000"/>
<text class="nostroke" x="391.80" y="549.20" font-family='"Liberation Serif", "Times New Roman", serif' font-style="italic" font-weight="bold" font-size="15">τ<tspan font-size="10.5" dx="1.0" dy="5.2" font-style="normal" font-weight="normal">d</tspan></text>
</svg>
</body></html>
